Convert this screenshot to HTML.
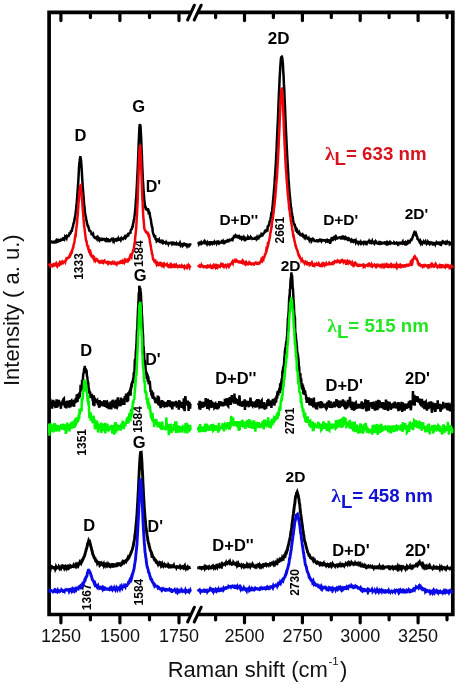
<!DOCTYPE html>
<html><head><meta charset="utf-8"><style>
html,body{margin:0;padding:0;background:#fff;}
svg{display:block;}
text{font-family:"Liberation Sans",Arial,sans-serif;}
</style></head><body>
<svg width="458" height="685" viewBox="0 0 458 685">
<rect width="458" height="685" fill="#fff"/>
<g stroke="#000" stroke-width="3.2" stroke-linecap="round"><line x1="60.9" y1="614.5" x2="60.9" y2="622.8"/><line x1="60.9" y1="12.3" x2="60.9" y2="20.6"/><line x1="119.9" y1="614.5" x2="119.9" y2="622.8"/><line x1="119.9" y1="12.3" x2="119.9" y2="20.6"/><line x1="179.0" y1="614.5" x2="179.0" y2="622.8"/><line x1="179.0" y1="12.3" x2="179.0" y2="20.6"/><line x1="90.4" y1="614.5" x2="90.4" y2="619.8"/><line x1="90.4" y1="12.3" x2="90.4" y2="17.6"/><line x1="149.5" y1="614.5" x2="149.5" y2="619.8"/><line x1="149.5" y1="12.3" x2="149.5" y2="17.6"/><line x1="244.5" y1="614.5" x2="244.5" y2="622.8"/><line x1="244.5" y1="12.3" x2="244.5" y2="20.6"/><line x1="302.4" y1="614.5" x2="302.4" y2="622.8"/><line x1="302.4" y1="12.3" x2="302.4" y2="20.6"/><line x1="360.2" y1="614.5" x2="360.2" y2="622.8"/><line x1="360.2" y1="12.3" x2="360.2" y2="20.6"/><line x1="418.1" y1="614.5" x2="418.1" y2="622.8"/><line x1="418.1" y1="12.3" x2="418.1" y2="20.6"/><line x1="215.6" y1="614.5" x2="215.6" y2="619.8"/><line x1="215.6" y1="12.3" x2="215.6" y2="17.6"/><line x1="273.4" y1="614.5" x2="273.4" y2="619.8"/><line x1="273.4" y1="12.3" x2="273.4" y2="17.6"/><line x1="331.3" y1="614.5" x2="331.3" y2="619.8"/><line x1="331.3" y1="12.3" x2="331.3" y2="17.6"/><line x1="389.1" y1="614.5" x2="389.1" y2="619.8"/><line x1="389.1" y1="12.3" x2="389.1" y2="17.6"/><line x1="447.0" y1="614.5" x2="447.0" y2="619.8"/><line x1="447.0" y1="12.3" x2="447.0" y2="17.6"/></g>
<g fill="none" stroke="#000" stroke-width="3.7" stroke-linejoin="miter">
<path d="M190.2,614.5 L49.1,614.5 L49.1,12.3 L190.2,12.3"/>
<path d="M197.0,12.3 L452.8,12.3 L452.8,614.5 L197.0,614.5"/>
</g>
<g stroke="#000" stroke-width="3" stroke-linecap="round">
<line x1="187.6" y1="622.0" x2="194.4" y2="607.2"/>
<line x1="194.2" y1="622.0" x2="201.2" y2="607.2"/>
<line x1="187.6" y1="20.0" x2="194.4" y2="5.2"/>
<line x1="194.2" y1="20.0" x2="201.2" y2="5.2"/>
</g>
<g font-size="18" fill="#111"><text x="60.9" y="642.3" text-anchor="middle">1250</text><text x="119.9" y="642.3" text-anchor="middle">1500</text><text x="179.0" y="642.3" text-anchor="middle">1750</text><text x="244.5" y="642.3" text-anchor="middle">2500</text><text x="302.4" y="642.3" text-anchor="middle">2750</text><text x="360.2" y="642.3" text-anchor="middle">3000</text><text x="418.1" y="642.3" text-anchor="middle">3250</text></g>
<text x="167.7" y="676.8" font-size="22" fill="#111">Raman shift (cm<tspan font-size="11.5" dy="-11.8" dx="0.6">-1</tspan><tspan dy="11.8" dx="1.2">)</tspan></text>
<text transform="translate(19,386) rotate(-90)" font-size="22" fill="#111">Intensity ( a. u.)</text>

<g font-weight="bold" fill="#000" text-anchor="middle">
<g font-size="16.5">
<text x="80.4" y="140.8">D</text><text x="138.6" y="111.6">G</text><text x="278.6" y="43.7" font-size="17">2D</text>
<text x="86.1" y="355.8">D</text><text x="140.2" y="281.4">G</text><text x="290.6" y="271.4" font-size="15.5">2D</text>
<text x="89.2" y="530.8">D</text><text x="139.1" y="447.5">G</text><text x="295.5" y="482.2" font-size="15.5">2D</text>
</g>
<g font-size="15.5">
<text x="153.5" y="192.1" font-size="16">D'</text><text x="238.8" y="224.7">D+D''</text><text x="340.7" y="225.2">D+D'</text><text x="416.4" y="219.4">2D'</text>
</g>
<g font-size="16.5">
<text x="153.0" y="365.3" font-size="16">D'</text><text x="235.8" y="384.4">D+D''</text><text x="344.2" y="391.4">D+D'</text><text x="417.5" y="384.4">2D'</text>
<text x="155.3" y="532.3" font-size="16">D'</text><text x="233" y="551.0">D+D''</text><text x="350.9" y="555.7">D+D'</text><text x="417.7" y="555.7">2D'</text>
</g>
</g>

<g font-weight="bold" font-size="18.7">
<text x="325.0" y="159.6" fill="#d7141e"><tspan font-family="Liberation Serif,serif" font-size="19.5">λ</tspan><tspan dy="5.5">L</tspan><tspan dy="-5.5">= 633 nm</tspan></text>
<text x="327.3" y="332.1" fill="#22e622"><tspan font-family="Liberation Serif,serif" font-size="19.5">λ</tspan><tspan dy="5.5">L</tspan><tspan dy="-5.5">= 515 nm</tspan></text>
<text x="331.3" y="502.1" fill="#1212d2"><tspan font-family="Liberation Serif,serif" font-size="19.5">λ</tspan><tspan dy="5.5">L</tspan><tspan dy="-5.5">= 458 nm</tspan></text>
</g>

<g font-size="12" font-weight="bold" fill="#000">
<text transform="translate(83.2,279.8) rotate(-90)">1333</text>
<text transform="translate(142.9,267) rotate(-90)">1584</text>
<text transform="translate(284.0,243.5) rotate(-90)">2661</text>
<text transform="translate(86.3,455.7) rotate(-90)">1351</text>
<text transform="translate(142.0,432.8) rotate(-90)">1584</text>
<text transform="translate(293.6,434.3) rotate(-90)">2701</text>
<text transform="translate(90.8,610.2) rotate(-90)">1367</text>
<text transform="translate(143.1,605.4) rotate(-90)">1584</text>
<text transform="translate(299.4,595.8) rotate(-90)">2730</text>
</g>
<g fill="none" stroke-linejoin="miter" stroke-miterlimit="3">
<polyline points="49.1,243.4 49.5,243.0 49.8,243.0 50.2,242.1 50.5,242.5 50.9,242.2 51.2,241.6 51.6,241.5 51.9,241.7 52.3,242.4 52.6,242.6 53.0,242.6 53.3,242.2 53.7,241.9 54.0,242.6 54.4,242.6 54.7,241.4 55.1,243.1 55.4,241.7 55.8,241.1 56.1,242.2 56.5,242.2 56.8,241.9 57.2,240.7 57.5,241.2 57.9,242.5 58.2,241.3 58.6,240.0 58.9,239.9 59.3,240.1 59.6,240.7 60.0,241.9 60.3,240.2 60.7,240.3 61.0,240.0 61.4,238.7 61.7,239.7 62.1,239.4 62.4,239.0 62.8,239.6 63.1,239.7 63.5,239.6 63.8,238.2 64.2,238.2 64.5,238.8 64.9,237.3 65.2,237.9 65.6,238.8 65.9,237.0 66.3,237.4 66.6,238.0 67.0,236.3 67.3,236.6 67.7,236.3 68.0,235.2 68.4,237.0 68.7,235.9 69.1,234.7 69.4,233.7 69.8,233.9 70.1,233.6 70.5,233.1 70.8,231.6 71.2,230.3 71.5,231.2 71.9,230.9 72.2,228.5 72.6,227.6 72.9,226.9 73.3,224.5 73.6,223.0 74.0,222.6 74.3,220.8 74.7,218.2 75.0,217.0 75.4,215.4 75.7,211.8 76.1,209.5 76.4,205.3 76.8,202.3 77.1,197.9 77.5,192.7 77.8,188.1 78.2,183.0 78.5,177.6 78.9,169.6 79.2,164.7 79.6,162.3 79.9,158.8 80.3,156.2 80.6,157.8 81.0,159.9 81.3,163.5 81.7,169.2 82.0,175.1 82.4,181.1 82.7,186.4 83.1,191.2 83.4,194.8 83.8,199.6 84.1,204.4 84.5,206.9 84.8,210.5 85.2,214.4 85.5,215.7 85.9,216.9 86.2,220.0 86.6,220.5 86.9,223.0 87.3,224.1 87.6,226.3 88.0,224.8 88.3,227.1 88.7,227.5 89.0,229.5 89.4,231.1 89.7,229.7 90.1,231.8 90.4,230.6 90.8,232.6 91.1,231.6 91.5,234.0 91.8,235.2 92.2,233.7 92.5,234.6 92.9,234.9 93.2,234.4 93.6,236.3 93.9,236.9 94.3,237.0 94.6,237.7 95.0,238.0 95.3,237.8 95.7,237.7 96.0,237.5 96.4,238.3 96.7,237.6 97.1,237.1 97.4,238.0 97.8,237.6 98.1,238.8 98.5,238.0 98.8,238.0 99.2,239.0 99.5,239.8 99.9,238.8 100.2,238.8 100.6,237.7 100.9,239.3 101.3,237.7 101.6,241.0 102.0,239.4 102.3,239.6 102.7,239.6 103.0,239.7 103.4,239.4 103.7,238.1 104.1,239.6 104.4,238.6 104.8,239.6 105.1,239.5 105.5,241.5 105.8,239.6 106.2,239.2 106.5,240.6 106.9,240.2 107.2,240.4 107.6,238.1 107.9,240.5 108.3,240.3 108.6,241.9 109.0,241.0 109.3,239.6 109.7,240.8 110.0,241.9 110.4,240.0 110.7,239.7 111.1,239.6 111.4,239.5 111.8,240.3 112.1,237.6 112.5,240.3 112.8,239.5 113.2,240.9 113.5,240.4 113.9,241.1 114.2,239.7 114.6,240.2 114.9,240.6 115.3,241.4 115.6,239.4 116.0,239.2 116.3,239.1 116.7,239.8 117.0,239.2 117.4,239.0 117.7,239.3 118.1,238.5 118.4,239.7 118.8,239.4 119.1,240.7 119.5,237.8 119.8,239.9 120.2,239.0 120.5,238.7 120.9,239.8 121.2,239.1 121.6,238.4 121.9,239.0 122.3,239.0 122.6,238.9 123.0,239.1 123.3,238.6 123.7,238.0 124.0,237.8 124.4,237.1 124.7,237.8 125.1,238.1 125.4,236.8 125.8,237.0 126.1,236.2 126.5,236.6 126.8,236.1 127.2,235.9 127.5,235.3 127.9,236.3 128.2,235.3 128.6,234.7 128.9,233.0 129.3,234.0 129.6,233.0 130.0,232.9 130.3,233.8 130.7,230.5 131.0,230.1 131.4,228.8 131.7,229.9 132.1,227.6 132.4,226.5 132.8,226.5 133.1,223.4 133.5,222.5 133.8,219.7 134.2,219.3 134.5,216.1 134.9,213.2 135.2,210.5 135.6,205.5 135.9,200.2 136.3,196.3 136.6,190.2 137.0,183.1 137.3,176.6 137.7,169.3 138.0,161.9 138.4,151.1 138.7,142.8 139.1,134.9 139.4,127.7 139.8,124.1 140.1,125.0 140.5,126.1 140.8,131.8 141.2,138.2 141.5,147.4 141.9,155.5 142.2,165.4 142.6,173.2 142.9,180.6 143.3,186.6 143.6,192.0 144.0,195.4 144.3,200.8 144.7,202.9 145.0,206.1 145.4,207.9 145.7,208.4 146.1,209.9 146.4,208.9 146.8,209.8 147.1,209.8 147.5,209.1 147.8,208.3 148.2,210.3 148.5,212.0 148.9,211.5 149.2,212.3 149.6,212.8 149.9,215.3 150.3,217.8 150.6,218.4 151.0,220.4 151.3,223.5 151.7,225.3 152.0,227.2 152.4,227.4 152.7,231.6 153.1,233.0 153.4,234.2 153.8,234.7 154.1,236.5 154.5,236.7 154.8,237.1 155.2,236.8 155.5,239.0 155.9,239.5 156.2,239.8 156.6,241.3 156.9,241.0 157.3,240.1 157.6,240.3 158.0,238.6 158.3,239.8 158.7,240.3 159.0,239.8 159.4,241.6 159.7,241.7 160.1,241.9 160.4,241.6 160.8,239.8 161.1,241.9 161.5,242.2 161.8,241.8 162.2,241.2 162.5,241.6 162.9,241.4 163.2,243.1 163.6,242.9 163.9,242.5 164.3,242.3 164.6,241.3 165.0,243.5 165.3,242.0 165.7,242.8 166.0,242.2 166.4,243.2 166.7,243.9 167.1,241.9 167.4,242.6 167.8,244.4 168.1,242.4 168.5,243.8 168.8,243.1 169.2,243.1 169.5,244.2 169.9,242.3 170.2,243.6 170.6,242.0 170.9,242.9 171.3,242.9 171.6,243.2 172.0,241.8 172.3,244.3 172.7,244.1 173.0,244.0 173.4,242.6 173.7,242.7 174.1,243.5 174.4,243.4 174.8,245.0 175.1,242.5 175.5,243.9 175.8,243.7 176.2,244.0 176.5,243.3 176.9,244.0 177.2,243.8 177.6,243.8 177.9,244.3 178.3,244.5 178.6,243.7 179.0,243.7 179.3,243.5 179.7,242.9 180.0,245.1 180.4,245.6 180.7,244.5 181.1,243.2 181.4,244.2 181.8,245.7 182.1,243.0 182.5,243.9 182.8,245.5 183.2,245.0 183.5,244.3 183.9,244.8 184.2,244.5 184.6,244.0 184.9,244.4 185.3,243.3 185.6,244.6 186.0,243.3 186.3,245.0 186.7,245.5 187.0,246.2 187.4,245.3 187.7,244.5 188.1,243.9 188.4,247.4 188.8,244.7 189.1,245.5 189.5,244.1 189.8,245.1 190.2,244.5 190.5,243.3" stroke="#000" stroke-width="2.5"/><polyline points="198.2,242.0 198.5,242.7 198.9,244.0 199.2,243.4 199.6,243.5 199.9,241.3 200.3,244.0 200.6,242.1 201.0,243.1 201.3,242.4 201.7,243.2 202.0,242.8 202.4,242.7 202.7,243.0 203.1,242.6 203.4,242.8 203.8,242.1 204.1,241.6 204.5,243.1 204.8,243.2 205.2,242.7 205.5,244.4 205.9,242.8 206.2,243.4 206.6,243.7 206.9,244.2 207.3,243.1 207.6,242.5 208.0,243.4 208.3,243.7 208.7,243.4 209.0,243.0 209.4,243.8 209.7,243.3 210.1,243.7 210.4,242.9 210.8,241.4 211.1,242.7 211.5,241.2 211.8,243.3 212.2,243.7 212.5,243.0 212.9,242.7 213.2,242.4 213.6,242.4 213.9,242.9 214.3,242.0 214.6,242.7 215.0,242.1 215.3,242.3 215.7,242.4 216.0,242.4 216.4,243.2 216.7,242.1 217.1,242.1 217.4,242.9 217.8,240.5 218.1,242.3 218.5,243.5 218.8,243.7 219.2,243.1 219.5,244.1 219.9,242.0 220.2,243.2 220.6,242.0 220.9,243.4 221.3,242.1 221.6,241.4 222.0,241.8 222.3,243.6 222.7,242.1 223.0,242.4 223.4,241.2 223.7,241.7 224.1,240.5 224.4,241.8 224.8,242.8 225.1,242.6 225.5,240.9 225.8,242.6 226.2,241.6 226.5,240.0 226.9,241.6 227.2,242.3 227.6,240.8 227.9,241.1 228.3,242.3 228.6,240.6 229.0,240.9 229.3,240.4 229.7,241.3 230.0,239.7 230.4,240.8 230.7,239.2 231.1,240.8 231.4,239.4 231.8,239.0 232.1,240.0 232.5,240.1 232.8,238.7 233.2,238.4 233.5,237.9 233.9,237.1 234.2,234.9 234.6,236.3 234.9,235.0 235.3,235.9 235.6,235.3 236.0,235.8 236.3,236.3 236.7,236.2 237.0,235.0 237.4,238.2 237.7,236.9 238.1,236.8 238.4,238.4 238.8,237.1 239.1,237.5 239.5,236.7 239.8,237.2 240.2,237.8 240.5,237.6 240.9,239.6 241.2,236.2 241.6,237.6 241.9,239.0 242.3,238.6 242.6,238.1 243.0,238.4 243.3,237.8 243.7,238.5 244.0,237.6 244.4,238.4 244.7,238.2 245.1,239.3 245.4,238.8 245.8,238.4 246.1,239.1 246.5,238.6 246.8,238.7 247.2,239.8 247.5,237.7 247.9,239.7 248.2,237.3 248.6,237.9 248.9,238.3 249.3,238.8 249.6,239.5 250.0,237.5 250.3,237.2 250.7,239.4 251.0,237.4 251.4,237.9 251.7,238.1 252.1,238.3 252.4,238.9 252.8,238.7 253.1,238.4 253.5,237.5 253.8,239.5 254.2,238.3 254.5,239.3 254.9,238.3 255.2,238.5 255.6,238.7 255.9,237.6 256.3,237.4 256.6,238.9 257.0,238.3 257.3,237.2 257.7,237.9 258.0,237.1 258.4,239.4 258.7,237.4 259.1,237.2 259.4,236.5 259.8,234.8 260.1,236.6 260.5,236.3 260.8,234.8 261.2,235.8 261.5,234.2 261.9,234.6 262.2,236.4 262.6,234.5 262.9,233.1 263.3,233.9 263.6,233.5 264.0,233.3 264.3,232.9 264.7,231.7 265.0,231.8 265.4,231.6 265.7,229.5 266.1,232.0 266.4,230.8 266.8,229.9 267.1,229.4 267.5,229.7 267.8,225.5 268.2,226.9 268.5,225.5 268.9,224.9 269.2,224.8 269.6,220.8 269.9,221.4 270.3,219.8 270.6,218.3 271.0,216.2 271.3,213.3 271.7,212.3 272.0,212.5 272.4,207.6 272.7,204.9 273.1,200.3 273.4,197.5 273.8,192.8 274.1,188.7 274.5,184.5 274.8,178.4 275.2,173.8 275.5,168.6 275.9,162.5 276.2,155.4 276.6,149.6 276.9,140.2 277.3,132.2 277.6,125.4 278.0,118.2 278.3,109.0 278.7,99.2 279.0,92.1 279.4,84.2 279.7,76.9 280.1,70.7 280.4,65.4 280.8,60.4 281.1,57.4 281.5,56.9 281.8,56.7 282.2,57.6 282.5,60.1 282.9,64.1 283.2,69.9 283.6,76.3 283.9,84.1 284.3,89.8 284.6,98.7 285.0,106.3 285.3,115.4 285.7,124.1 286.0,131.7 286.4,139.5 286.7,146.1 287.1,153.9 287.4,159.5 287.8,166.3 288.1,170.7 288.5,179.6 288.8,182.3 289.2,188.6 289.5,192.6 289.9,196.4 290.2,199.4 290.6,203.5 290.9,207.0 291.3,208.0 291.6,212.4 292.0,213.4 292.3,216.3 292.7,217.0 293.0,219.7 293.4,221.8 293.7,223.4 294.1,224.3 294.4,224.2 294.8,224.7 295.1,226.6 295.5,227.3 295.8,229.5 296.2,229.1 296.5,228.8 296.9,229.4 297.2,231.8 297.6,231.7 297.9,232.2 298.3,232.0 298.6,233.2 299.0,233.0 299.3,232.4 299.7,233.6 300.0,234.4 300.4,234.3 300.7,235.9 301.1,235.1 301.4,235.2 301.8,234.2 302.1,236.5 302.5,235.1 302.8,235.7 303.2,235.0 303.5,235.4 303.9,236.4 304.2,237.1 304.6,235.9 304.9,235.8 305.3,237.6 305.6,236.2 306.0,237.6 306.3,237.1 306.7,238.8 307.0,237.7 307.4,238.2 307.7,238.4 308.1,239.0 308.4,239.0 308.8,238.3 309.1,239.1 309.5,240.4 309.8,239.9 310.2,238.1 310.5,239.2 310.9,239.4 311.2,238.1 311.6,240.9 311.9,240.4 312.3,239.1 312.6,238.8 313.0,239.5 313.3,240.8 313.7,239.1 314.0,239.8 314.4,240.7 314.7,241.8 315.1,240.1 315.4,240.8 315.8,241.0 316.1,240.9 316.5,240.6 316.8,240.8 317.2,240.3 317.5,239.3 317.9,242.3 318.2,241.3 318.6,240.5 318.9,240.6 319.3,240.2 319.6,240.8 320.0,240.8 320.3,240.4 320.7,239.9 321.0,240.2 321.4,241.0 321.7,240.2 322.1,240.4 322.4,241.4 322.8,240.1 323.1,240.2 323.5,241.5 323.8,240.0 324.2,241.0 324.5,239.1 324.9,241.5 325.2,240.7 325.6,240.8 325.9,241.5 326.3,241.1 326.6,240.5 327.0,240.9 327.3,240.3 327.7,240.9 328.0,240.2 328.4,240.2 328.7,241.2 329.1,242.4 329.4,239.9 329.8,241.0 330.1,243.8 330.5,239.3 330.8,240.2 331.2,239.3 331.5,239.0 331.9,237.1 332.2,239.3 332.6,238.7 332.9,238.2 333.3,237.8 333.6,239.2 334.0,238.8 334.3,238.3 334.7,239.9 335.0,238.2 335.4,237.3 335.7,238.3 336.1,237.6 336.4,238.9 336.8,237.4 337.1,239.3 337.5,238.2 337.8,236.9 338.2,238.3 338.5,237.2 338.9,238.5 339.2,237.5 339.6,237.4 339.9,237.7 340.3,238.1 340.6,237.7 341.0,238.2 341.3,238.1 341.7,238.3 342.0,237.7 342.4,236.5 342.7,235.5 343.1,237.1 343.4,237.3 343.8,238.4 344.1,238.4 344.5,237.3 344.8,237.1 345.2,238.8 345.5,238.6 345.9,237.4 346.2,237.5 346.6,237.9 346.9,239.1 347.3,239.3 347.6,239.0 348.0,241.1 348.3,239.1 348.7,238.7 349.0,239.5 349.4,239.5 349.7,240.7 350.1,239.7 350.4,239.8 350.8,240.7 351.1,240.2 351.5,241.4 351.8,241.2 352.2,240.7 352.5,241.4 352.9,241.7 353.2,241.9 353.6,240.8 353.9,240.3 354.3,240.2 354.6,241.3 355.0,241.6 355.3,241.5 355.7,240.8 356.0,242.4 356.4,241.7 356.7,241.6 357.1,242.1 357.4,240.9 357.8,241.8 358.1,242.3 358.5,240.9 358.8,243.0 359.2,242.4 359.5,242.3 359.9,242.8 360.2,241.4 360.6,243.3 360.9,242.3 361.3,243.2 361.6,242.7 362.0,241.5 362.3,243.2 362.7,243.2 363.0,241.9 363.4,242.9 363.7,242.0 364.1,241.1 364.4,242.4 364.8,242.2 365.1,242.0 365.5,242.2 365.8,245.0 366.2,243.4 366.5,241.0 366.9,242.2 367.2,243.1 367.6,242.3 367.9,242.0 368.3,243.1 368.6,242.1 369.0,241.2 369.3,242.1 369.7,242.0 370.0,242.5 370.4,242.0 370.7,243.2 371.1,241.5 371.4,242.3 371.8,241.6 372.1,241.1 372.5,243.4 372.8,242.7 373.2,243.7 373.5,241.0 373.9,243.1 374.2,243.5 374.6,242.3 374.9,242.6 375.3,241.9 375.6,243.4 376.0,241.8 376.3,241.8 376.7,244.1 377.0,243.0 377.4,243.6 377.7,243.6 378.1,243.7 378.4,243.3 378.8,243.3 379.1,243.5 379.5,240.9 379.8,244.0 380.2,243.2 380.5,243.3 380.9,244.8 381.2,242.4 381.6,242.4 381.9,242.7 382.3,244.0 382.6,242.8 383.0,244.0 383.3,243.0 383.7,242.9 384.0,242.7 384.4,243.1 384.7,242.6 385.1,242.5 385.4,242.9 385.8,243.5 386.1,242.4 386.5,242.3 386.8,242.0 387.2,242.9 387.5,242.1 387.9,243.4 388.2,243.0 388.6,242.7 388.9,241.5 389.3,243.3 389.6,243.0 390.0,243.3 390.3,242.0 390.7,242.3 391.0,243.0 391.4,244.1 391.7,242.3 392.1,243.9 392.4,242.2 392.8,244.1 393.1,242.3 393.5,243.4 393.8,244.1 394.2,242.5 394.5,242.8 394.9,244.7 395.2,241.8 395.6,243.1 395.9,244.3 396.3,242.8 396.6,242.5 397.0,242.7 397.3,243.4 397.7,242.3 398.0,243.3 398.4,243.8 398.7,242.0 399.1,243.3 399.4,243.2 399.8,241.7 400.1,243.7 400.5,241.7 400.8,243.0 401.2,242.7 401.5,242.8 401.9,243.3 402.2,242.5 402.6,241.8 402.9,243.6 403.3,243.5 403.6,242.6 404.0,243.1 404.3,241.2 404.7,242.4 405.0,242.8 405.4,243.4 405.7,242.5 406.1,243.1 406.4,241.8 406.8,243.7 407.1,242.5 407.5,241.9 407.8,243.3 408.2,243.0 408.5,242.9 408.9,241.5 409.2,241.7 409.6,243.2 409.9,241.3 410.3,240.9 410.6,240.3 411.0,239.2 411.3,241.0 411.7,238.1 412.0,239.3 412.4,237.9 412.7,236.9 413.1,235.8 413.4,234.9 413.8,233.9 414.1,232.6 414.5,231.9 414.8,232.1 415.2,232.9 415.5,233.9 415.9,233.3 416.2,234.3 416.6,235.3 416.9,236.5 417.3,237.0 417.6,240.0 418.0,238.5 418.3,239.4 418.7,240.9 419.0,240.1 419.4,241.7 419.7,242.2 420.1,241.6 420.4,240.9 420.8,241.9 421.1,243.5 421.5,242.9 421.8,241.9 422.2,242.1 422.5,243.1 422.9,242.3 423.2,241.5 423.6,243.1 423.9,241.9 424.3,242.5 424.6,243.1 425.0,243.0 425.3,242.8 425.7,241.8 426.0,242.6 426.4,242.6 426.7,243.6 427.1,243.1 427.4,243.6 427.8,243.6 428.1,242.0 428.5,242.6 428.8,244.1 429.2,242.5 429.5,242.4 429.9,243.8 430.2,243.4 430.6,243.3 430.9,242.4 431.3,242.4 431.6,243.0 432.0,243.1 432.3,243.0 432.7,244.4 433.0,244.4 433.4,242.3 433.7,243.1 434.1,243.2 434.4,244.0 434.8,243.8 435.1,244.3 435.5,242.3 435.8,243.4 436.2,242.7 436.5,243.6 436.9,243.4 437.2,241.8 437.6,242.6 437.9,243.7 438.3,243.9 438.6,243.7 439.0,243.3 439.3,244.3 439.7,241.6 440.0,242.6 440.4,242.7 440.7,245.8 441.1,244.7 441.4,241.4 441.8,242.6 442.1,241.9 442.5,241.8 442.8,241.3 443.2,241.6 443.5,242.9 443.9,242.9 444.2,242.5 444.6,242.4 444.9,243.4 445.3,243.5 445.6,242.9 446.0,244.0 446.3,244.8 446.7,241.8 447.0,242.8 447.4,241.8 447.7,242.2 448.1,242.2 448.4,242.4 448.8,242.5 449.1,242.4 449.5,243.9 449.8,243.5 450.2,242.2 450.5,243.5 450.9,244.0 451.2,241.9 451.6,244.8 451.9,242.7 452.3,243.4 452.6,242.8" stroke="#000" stroke-width="2.5"/><polyline points="49.1,265.7 49.5,264.6 49.8,264.7 50.2,266.0 50.5,265.8 50.9,265.9 51.2,265.0 51.6,265.4 51.9,264.7 52.3,266.8 52.6,264.0 53.0,265.2 53.3,264.6 53.7,265.1 54.0,265.3 54.4,264.5 54.7,264.2 55.1,264.9 55.4,264.8 55.8,264.1 56.1,265.2 56.5,265.7 56.8,264.1 57.2,264.8 57.5,265.7 57.9,264.7 58.2,264.4 58.6,264.8 58.9,265.0 59.3,263.6 59.6,262.8 60.0,263.6 60.3,263.9 60.7,262.9 61.0,262.5 61.4,263.1 61.7,262.3 62.1,261.8 62.4,262.6 62.8,262.9 63.1,261.8 63.5,261.7 63.8,260.8 64.2,262.5 64.5,261.8 64.9,261.7 65.2,262.2 65.6,260.4 65.9,259.8 66.3,260.6 66.6,258.5 67.0,258.7 67.3,258.5 67.7,258.3 68.0,257.4 68.4,258.9 68.7,256.8 69.1,256.4 69.4,257.7 69.8,255.5 70.1,255.4 70.5,253.9 70.8,254.2 71.2,253.1 71.5,252.0 71.9,252.1 72.2,250.0 72.6,249.5 72.9,247.9 73.3,247.4 73.6,244.8 74.0,243.7 74.3,242.7 74.7,240.2 75.0,237.7 75.4,235.1 75.7,235.3 76.1,230.6 76.4,227.9 76.8,225.1 77.1,222.1 77.5,216.3 77.8,214.0 78.2,208.0 78.5,202.7 78.9,200.4 79.2,195.0 79.6,192.1 79.9,188.2 80.3,185.8 80.6,185.5 81.0,190.1 81.3,191.9 81.7,194.7 82.0,198.3 82.4,203.9 82.7,209.5 83.1,213.2 83.4,217.7 83.8,221.8 84.1,225.8 84.5,228.1 84.8,231.1 85.2,234.1 85.5,236.6 85.9,239.6 86.2,240.9 86.6,241.3 86.9,244.0 87.3,246.5 87.6,245.6 88.0,247.4 88.3,247.2 88.7,249.9 89.0,251.2 89.4,252.9 89.7,251.4 90.1,251.1 90.4,254.5 90.8,255.0 91.1,254.5 91.5,256.2 91.8,256.2 92.2,256.8 92.5,256.7 92.9,256.4 93.2,257.6 93.6,257.3 93.9,258.6 94.3,258.3 94.6,260.6 95.0,260.3 95.3,258.7 95.7,260.1 96.0,259.4 96.4,259.6 96.7,259.2 97.1,259.7 97.4,259.7 97.8,260.8 98.1,261.4 98.5,261.6 98.8,261.5 99.2,262.2 99.5,261.8 99.9,261.6 100.2,261.4 100.6,262.0 100.9,263.3 101.3,261.9 101.6,261.8 102.0,261.2 102.3,261.6 102.7,262.7 103.0,262.8 103.4,260.7 103.7,261.7 104.1,260.9 104.4,260.7 104.8,263.2 105.1,262.2 105.5,262.2 105.8,262.2 106.2,262.2 106.5,262.5 106.9,262.6 107.2,263.9 107.6,262.9 107.9,263.4 108.3,262.7 108.6,263.2 109.0,262.3 109.3,262.2 109.7,262.6 110.0,262.6 110.4,262.8 110.7,263.3 111.1,263.1 111.4,263.4 111.8,262.7 112.1,263.0 112.5,262.5 112.8,264.1 113.2,262.3 113.5,263.6 113.9,263.6 114.2,263.2 114.6,263.5 114.9,262.8 115.3,263.5 115.6,263.9 116.0,263.7 116.3,262.0 116.7,263.0 117.0,263.9 117.4,263.0 117.7,264.2 118.1,261.5 118.4,264.1 118.8,262.5 119.1,262.4 119.5,264.0 119.8,262.5 120.2,261.9 120.5,262.3 120.9,262.4 121.2,261.8 121.6,262.4 121.9,262.2 122.3,262.5 122.6,261.8 123.0,263.0 123.3,261.5 123.7,262.4 124.0,262.8 124.4,261.5 124.7,260.3 125.1,260.8 125.4,261.8 125.8,260.7 126.1,261.4 126.5,261.0 126.8,260.6 127.2,262.3 127.5,260.1 127.9,260.8 128.2,260.2 128.6,260.6 128.9,260.3 129.3,259.4 129.6,257.6 130.0,256.5 130.3,257.3 130.7,255.9 131.0,256.4 131.4,257.0 131.7,254.6 132.1,253.5 132.4,253.2 132.8,251.6 133.1,250.1 133.5,249.9 133.8,248.8 134.2,246.0 134.5,243.8 134.9,241.5 135.2,237.6 135.6,233.7 135.9,231.6 136.3,226.2 136.6,220.7 137.0,214.7 137.3,207.3 137.7,200.1 138.0,189.9 138.4,178.8 138.7,169.4 139.1,160.7 139.4,151.6 139.8,146.1 140.1,145.9 140.5,149.8 140.8,154.9 141.2,166.2 141.5,174.8 141.9,185.3 142.2,195.5 142.6,201.8 142.9,209.5 143.3,216.5 143.6,219.8 144.0,224.4 144.3,228.4 144.7,229.5 145.0,230.2 145.4,230.9 145.7,231.8 146.1,232.2 146.4,232.0 146.8,232.6 147.1,231.6 147.5,232.7 147.8,233.0 148.2,233.5 148.5,235.8 148.9,236.7 149.2,236.4 149.6,239.1 149.9,241.5 150.3,243.1 150.6,245.8 151.0,247.3 151.3,250.1 151.7,251.3 152.0,254.6 152.4,253.9 152.7,256.9 153.1,259.0 153.4,259.0 153.8,260.1 154.1,260.4 154.5,262.1 154.8,261.4 155.2,259.3 155.5,263.5 155.9,262.5 156.2,263.3 156.6,263.1 156.9,264.9 157.3,264.5 157.6,263.3 158.0,263.9 158.3,262.6 158.7,264.6 159.0,264.0 159.4,261.9 159.7,264.9 160.1,265.1 160.4,264.5 160.8,264.6 161.1,263.9 161.5,264.6 161.8,265.3 162.2,264.6 162.5,262.7 162.9,263.9 163.2,267.2 163.6,265.1 163.9,265.8 164.3,264.6 164.6,265.3 165.0,263.7 165.3,264.5 165.7,264.6 166.0,265.2 166.4,265.4 166.7,265.2 167.1,264.4 167.4,265.1 167.8,265.8 168.1,264.6 168.5,265.5 168.8,265.7 169.2,266.3 169.5,266.2 169.9,266.2 170.2,268.0 170.6,265.0 170.9,265.4 171.3,266.0 171.6,265.0 172.0,265.6 172.3,265.6 172.7,267.9 173.0,266.2 173.4,265.6 173.7,264.7 174.1,264.6 174.4,264.9 174.8,267.0 175.1,267.9 175.5,265.7 175.8,266.1 176.2,265.4 176.5,266.3 176.9,266.1 177.2,267.4 177.6,265.9 177.9,266.6 178.3,266.0 178.6,266.0 179.0,266.4 179.3,266.1 179.7,266.4 180.0,265.8 180.4,266.0 180.7,266.9 181.1,266.9 181.4,265.1 181.8,266.6 182.1,265.7 182.5,266.2 182.8,267.0 183.2,267.1 183.5,266.5 183.9,266.4 184.2,266.1 184.6,267.6 184.9,267.1 185.3,266.7 185.6,265.4 186.0,268.6 186.3,266.3 186.7,267.1 187.0,266.4 187.4,267.1 187.7,266.4 188.1,265.5 188.4,266.5 188.8,266.4 189.1,266.5 189.5,267.4 189.8,266.4 190.2,267.0 190.5,267.5" stroke="#f0050a" stroke-width="2.5"/><polyline points="198.2,266.9 198.5,266.3 198.9,266.1 199.2,267.3 199.6,265.9 199.9,266.3 200.3,265.9 200.6,266.3 201.0,265.6 201.3,267.3 201.7,265.1 202.0,265.5 202.4,267.0 202.7,266.0 203.1,266.1 203.4,267.9 203.8,266.0 204.1,266.9 204.5,266.6 204.8,266.9 205.2,266.8 205.5,266.4 205.9,266.3 206.2,267.7 206.6,266.6 206.9,267.5 207.3,267.4 207.6,266.7 208.0,265.7 208.3,265.9 208.7,266.8 209.0,266.9 209.4,267.0 209.7,266.2 210.1,265.6 210.4,266.3 210.8,265.8 211.1,266.1 211.5,265.1 211.8,267.9 212.2,268.0 212.5,266.4 212.9,265.8 213.2,266.6 213.6,265.9 213.9,267.2 214.3,267.2 214.6,266.8 215.0,265.5 215.3,265.6 215.7,266.8 216.0,266.0 216.4,266.7 216.7,266.1 217.1,267.0 217.4,266.2 217.8,266.7 218.1,266.1 218.5,266.6 218.8,266.7 219.2,266.0 219.5,266.3 219.9,266.0 220.2,266.4 220.6,265.5 220.9,266.6 221.3,265.4 221.6,264.9 222.0,266.2 222.3,264.5 222.7,264.3 223.0,265.5 223.4,266.9 223.7,267.1 224.1,265.9 224.4,264.4 224.8,265.3 225.1,265.1 225.5,265.9 225.8,266.2 226.2,265.3 226.5,266.5 226.9,265.7 227.2,265.1 227.6,265.4 227.9,264.9 228.3,265.6 228.6,264.7 229.0,264.7 229.3,266.2 229.7,265.6 230.0,265.2 230.4,263.9 230.7,263.9 231.1,263.7 231.4,263.5 231.8,262.8 232.1,262.2 232.5,263.0 232.8,263.5 233.2,261.3 233.5,261.6 233.9,261.1 234.2,261.0 234.6,261.5 234.9,261.6 235.3,259.6 235.6,259.5 236.0,259.7 236.3,260.4 236.7,260.6 237.0,261.3 237.4,261.1 237.7,261.7 238.1,262.0 238.4,261.5 238.8,260.5 239.1,263.5 239.5,261.6 239.8,261.6 240.2,263.1 240.5,262.0 240.9,262.2 241.2,262.6 241.6,262.7 241.9,263.5 242.3,261.0 242.6,260.5 243.0,261.2 243.3,262.7 243.7,262.3 244.0,262.3 244.4,263.3 244.7,262.9 245.1,262.4 245.4,263.2 245.8,264.4 246.1,264.1 246.5,262.9 246.8,263.5 247.2,263.6 247.5,262.3 247.9,263.4 248.2,264.1 248.6,263.7 248.9,262.0 249.3,264.7 249.6,262.4 250.0,262.7 250.3,264.1 250.7,264.2 251.0,262.9 251.4,263.8 251.7,264.5 252.1,262.6 252.4,264.0 252.8,263.8 253.1,264.1 253.5,264.3 253.8,264.0 254.2,264.3 254.5,263.6 254.9,263.1 255.2,263.1 255.6,262.9 255.9,262.6 256.3,263.1 256.6,264.1 257.0,262.7 257.3,264.7 257.7,263.8 258.0,262.9 258.4,264.3 258.7,261.6 259.1,263.4 259.4,263.5 259.8,262.7 260.1,262.4 260.5,261.6 260.8,261.3 261.2,260.0 261.5,260.6 261.9,259.9 262.2,260.4 262.6,258.7 262.9,259.2 263.3,259.6 263.6,256.4 264.0,257.6 264.3,256.9 264.7,256.0 265.0,254.0 265.4,254.9 265.7,253.0 266.1,251.3 266.4,249.2 266.8,249.8 267.1,248.3 267.5,247.8 267.8,244.2 268.2,244.5 268.5,243.0 268.9,241.3 269.2,240.5 269.6,238.1 269.9,237.3 270.3,233.2 270.6,232.6 271.0,230.5 271.3,227.3 271.7,227.0 272.0,222.6 272.4,220.1 272.7,219.4 273.1,215.6 273.4,213.5 273.8,209.9 274.1,207.6 274.5,205.2 274.8,200.6 275.2,197.8 275.5,193.8 275.9,189.2 276.2,184.8 276.6,180.7 276.9,177.5 277.3,170.5 277.6,165.6 278.0,158.3 278.3,152.5 278.7,143.9 279.0,136.7 279.4,128.8 279.7,120.0 280.1,113.2 280.4,103.4 280.8,96.9 281.1,92.7 281.5,88.7 281.8,88.6 282.2,91.0 282.5,96.2 282.9,102.1 283.2,109.9 283.6,118.9 283.9,127.6 284.3,136.3 284.6,144.3 285.0,150.7 285.3,158.5 285.7,165.5 286.0,170.0 286.4,174.6 286.7,180.7 287.1,184.3 287.4,188.9 287.8,194.0 288.1,196.7 288.5,200.6 288.8,203.3 289.2,209.2 289.5,209.3 289.9,212.3 290.2,216.3 290.6,217.4 290.9,220.9 291.3,223.0 291.6,224.8 292.0,226.7 292.3,229.7 292.7,231.4 293.0,233.5 293.4,236.3 293.7,236.2 294.1,238.6 294.4,240.8 294.8,241.6 295.1,243.5 295.5,245.7 295.8,245.8 296.2,247.8 296.5,248.6 296.9,249.4 297.2,250.5 297.6,250.7 297.9,253.0 298.3,254.1 298.6,255.4 299.0,256.1 299.3,255.7 299.7,256.6 300.0,258.2 300.4,258.6 300.7,259.0 301.1,257.9 301.4,260.3 301.8,259.7 302.1,261.7 302.5,260.9 302.8,260.0 303.2,262.4 303.5,260.7 303.9,263.4 304.2,262.1 304.6,263.2 304.9,262.6 305.3,262.9 305.6,262.2 306.0,262.8 306.3,263.1 306.7,263.7 307.0,263.1 307.4,264.2 307.7,264.1 308.1,264.2 308.4,263.4 308.8,262.1 309.1,264.0 309.5,262.5 309.8,264.9 310.2,264.6 310.5,263.8 310.9,263.7 311.2,263.7 311.6,263.0 311.9,264.5 312.3,263.5 312.6,264.2 313.0,266.7 313.3,265.3 313.7,264.9 314.0,264.4 314.4,264.1 314.7,264.8 315.1,263.5 315.4,265.4 315.8,264.6 316.1,263.9 316.5,265.5 316.8,263.6 317.2,263.9 317.5,264.8 317.9,264.7 318.2,264.8 318.6,264.7 318.9,263.7 319.3,264.3 319.6,265.8 320.0,265.9 320.3,264.2 320.7,266.8 321.0,266.0 321.4,265.2 321.7,264.7 322.1,263.6 322.4,264.5 322.8,261.9 323.1,264.5 323.5,263.9 323.8,263.8 324.2,264.7 324.5,263.8 324.9,264.0 325.2,264.3 325.6,265.0 325.9,264.8 326.3,263.7 326.6,264.4 327.0,264.0 327.3,263.9 327.7,263.9 328.0,264.1 328.4,263.6 328.7,263.3 329.1,262.8 329.4,263.4 329.8,264.2 330.1,264.2 330.5,263.1 330.8,264.7 331.2,263.8 331.5,262.5 331.9,263.5 332.2,263.6 332.6,262.0 332.9,265.0 333.3,262.8 333.6,263.0 334.0,262.9 334.3,261.7 334.7,261.1 335.0,261.2 335.4,261.5 335.7,261.6 336.1,262.0 336.4,261.7 336.8,262.8 337.1,261.9 337.5,260.9 337.8,261.3 338.2,260.5 338.5,262.3 338.9,261.4 339.2,261.7 339.6,260.0 339.9,261.0 340.3,261.0 340.6,261.7 341.0,261.1 341.3,261.5 341.7,261.2 342.0,259.0 342.4,261.7 342.7,261.0 343.1,261.6 343.4,259.9 343.8,261.8 344.1,261.8 344.5,260.9 344.8,260.0 345.2,261.2 345.5,262.0 345.9,263.7 346.2,264.7 346.6,262.0 346.9,262.0 347.3,261.2 347.6,261.9 348.0,262.6 348.3,261.5 348.7,261.3 349.0,263.3 349.4,262.2 349.7,262.1 350.1,263.8 350.4,262.9 350.8,263.5 351.1,262.6 351.5,262.8 351.8,265.5 352.2,264.1 352.5,262.9 352.9,263.7 353.2,265.0 353.6,264.6 353.9,265.2 354.3,264.2 354.6,265.5 355.0,263.6 355.3,264.0 355.7,263.4 356.0,263.9 356.4,264.0 356.7,264.2 357.1,264.5 357.4,266.5 357.8,264.6 358.1,265.7 358.5,267.0 358.8,263.9 359.2,265.2 359.5,266.5 359.9,265.0 360.2,264.9 360.6,265.2 360.9,264.2 361.3,266.3 361.6,264.7 362.0,266.2 362.3,265.1 362.7,264.9 363.0,265.9 363.4,263.5 363.7,267.0 364.1,266.7 364.4,265.9 364.8,266.3 365.1,264.7 365.5,266.0 365.8,264.5 366.2,266.0 366.5,265.0 366.9,265.0 367.2,265.5 367.6,265.1 367.9,265.4 368.3,264.0 368.6,263.8 369.0,266.0 369.3,265.3 369.7,264.8 370.0,265.2 370.4,264.1 370.7,263.6 371.1,267.3 371.4,266.2 371.8,264.7 372.1,265.3 372.5,266.3 372.8,265.9 373.2,265.6 373.5,264.4 373.9,266.5 374.2,265.6 374.6,264.6 374.9,264.9 375.3,265.9 375.6,266.0 376.0,267.2 376.3,267.2 376.7,266.5 377.0,265.1 377.4,265.2 377.7,264.8 378.1,265.1 378.4,265.2 378.8,265.7 379.1,266.5 379.5,264.9 379.8,266.1 380.2,267.3 380.5,265.5 380.9,265.8 381.2,263.9 381.6,266.1 381.9,265.6 382.3,266.8 382.6,265.3 383.0,265.7 383.3,266.5 383.7,265.7 384.0,266.9 384.4,265.4 384.7,266.3 385.1,265.6 385.4,266.6 385.8,266.5 386.1,266.0 386.5,265.2 386.8,265.8 387.2,267.8 387.5,265.4 387.9,266.0 388.2,265.4 388.6,265.0 388.9,265.3 389.3,266.5 389.6,266.2 390.0,265.5 390.3,265.1 390.7,266.5 391.0,266.4 391.4,266.7 391.7,265.6 392.1,266.5 392.4,264.1 392.8,265.3 393.1,265.0 393.5,265.4 393.8,266.4 394.2,268.0 394.5,264.8 394.9,265.7 395.2,267.4 395.6,263.6 395.9,265.3 396.3,264.6 396.6,266.1 397.0,267.3 397.3,266.5 397.7,265.3 398.0,267.6 398.4,266.3 398.7,265.0 399.1,265.0 399.4,265.8 399.8,268.0 400.1,266.1 400.5,264.9 400.8,265.2 401.2,266.2 401.5,265.6 401.9,265.4 402.2,266.2 402.6,266.4 402.9,266.4 403.3,266.5 403.6,265.9 404.0,265.8 404.3,265.3 404.7,265.3 405.0,265.9 405.4,267.4 405.7,265.3 406.1,266.4 406.4,264.2 406.8,265.9 407.1,263.8 407.5,265.0 407.8,264.1 408.2,265.2 408.5,264.9 408.9,265.5 409.2,265.4 409.6,265.2 409.9,264.0 410.3,265.2 410.6,263.1 411.0,263.7 411.3,262.5 411.7,263.1 412.0,261.6 412.4,262.3 412.7,260.6 413.1,259.4 413.4,259.2 413.8,257.9 414.1,257.0 414.5,256.6 414.8,258.3 415.2,257.0 415.5,257.4 415.9,258.6 416.2,259.4 416.6,258.0 416.9,259.7 417.3,260.4 417.6,260.9 418.0,263.3 418.3,263.4 418.7,265.1 419.0,263.9 419.4,266.0 419.7,265.3 420.1,264.4 420.4,264.7 420.8,266.1 421.1,266.1 421.5,264.4 421.8,265.2 422.2,266.0 422.5,265.5 422.9,265.6 423.2,266.6 423.6,266.2 423.9,267.5 424.3,265.6 424.6,265.8 425.0,265.0 425.3,265.1 425.7,266.3 426.0,264.6 426.4,266.5 426.7,265.2 427.1,266.4 427.4,266.5 427.8,267.0 428.1,266.0 428.5,264.2 428.8,265.9 429.2,265.6 429.5,266.3 429.9,265.6 430.2,265.5 430.6,265.7 430.9,265.0 431.3,266.1 431.6,265.7 432.0,264.8 432.3,265.6 432.7,266.7 433.0,265.1 433.4,265.6 433.7,266.7 434.1,266.7 434.4,266.4 434.8,265.4 435.1,265.8 435.5,265.3 435.8,264.1 436.2,264.7 436.5,266.0 436.9,266.6 437.2,265.0 437.6,266.7 437.9,266.7 438.3,266.2 438.6,265.9 439.0,266.3 439.3,265.9 439.7,268.3 440.0,266.4 440.4,266.1 440.7,265.6 441.1,265.9 441.4,266.3 441.8,264.2 442.1,265.4 442.5,265.7 442.8,265.9 443.2,265.8 443.5,266.8 443.9,267.0 444.2,266.0 444.6,267.4 444.9,265.7 445.3,266.5 445.6,265.6 446.0,266.1 446.3,266.8 446.7,266.7 447.0,266.5 447.4,265.1 447.7,265.1 448.1,266.3 448.4,266.1 448.8,266.8 449.1,265.1 449.5,266.0 449.8,266.7 450.2,267.2 450.5,265.8 450.9,264.7 451.2,266.1 451.6,266.9 451.9,266.9 452.3,266.7 452.6,268.0" stroke="#f0050a" stroke-width="2.5"/><polyline points="49.1,404.1 49.4,401.6 49.6,402.4 49.9,402.4 50.1,398.2 50.4,407.0 50.6,405.7 50.9,407.3 51.1,404.4 51.4,401.8 51.6,404.2 51.9,403.0 52.1,408.8 52.4,403.8 52.6,406.4 52.9,399.9 53.1,402.1 53.4,401.9 53.6,404.3 53.9,402.7 54.1,402.6 54.4,405.0 54.6,405.4 54.9,404.5 55.1,405.7 55.4,405.6 55.6,404.9 55.9,406.0 56.1,402.4 56.4,408.0 56.6,399.2 56.9,405.7 57.1,405.5 57.4,407.5 57.6,404.6 57.9,404.8 58.1,403.5 58.4,405.5 58.6,404.0 58.9,399.8 59.1,403.2 59.4,405.6 59.6,401.9 59.9,404.5 60.1,402.7 60.4,402.7 60.6,405.1 60.9,408.8 61.1,405.0 61.4,402.8 61.6,405.0 61.9,403.1 62.1,401.7 62.4,405.4 62.6,401.1 62.9,400.2 63.1,401.5 63.4,401.2 63.6,398.9 63.9,398.6 64.1,403.5 64.3,404.0 64.6,402.5 64.8,406.1 65.1,407.6 65.3,406.0 65.6,401.7 65.8,402.7 66.1,407.5 66.3,408.3 66.6,404.5 66.8,401.0 67.1,403.8 67.3,402.0 67.6,400.7 67.8,403.0 68.1,402.1 68.3,406.1 68.6,406.3 68.8,402.8 69.1,401.8 69.3,401.6 69.6,401.8 69.8,401.3 70.1,401.2 70.3,407.3 70.6,404.8 70.8,401.8 71.1,401.4 71.3,406.4 71.6,399.9 71.8,403.7 72.1,403.1 72.3,401.8 72.6,400.5 72.8,405.7 73.1,399.7 73.3,401.8 73.6,403.7 73.8,402.4 74.1,406.8 74.3,403.0 74.6,400.8 74.8,402.8 75.1,401.7 75.3,401.1 75.6,400.4 75.8,397.8 76.1,400.1 76.3,400.4 76.6,398.2 76.8,394.3 77.1,399.8 77.3,397.4 77.6,402.0 77.8,394.7 78.1,395.9 78.3,393.8 78.6,396.7 78.8,398.6 79.1,393.4 79.3,393.1 79.6,396.4 79.8,397.1 80.1,391.7 80.3,392.4 80.6,384.8 80.8,386.4 81.1,390.3 81.3,388.2 81.6,390.7 81.8,387.5 82.1,379.9 82.3,382.6 82.6,382.1 82.8,382.0 83.1,375.8 83.3,373.7 83.6,372.9 83.8,372.7 84.1,369.5 84.3,368.0 84.6,369.5 84.8,365.7 85.1,372.1 85.3,370.3 85.6,368.6 85.8,369.2 86.1,373.1 86.3,371.1 86.6,371.1 86.8,374.3 87.1,376.7 87.3,377.1 87.6,379.9 87.8,380.9 88.1,384.6 88.3,382.4 88.6,389.6 88.8,388.0 89.1,390.3 89.3,392.5 89.6,393.8 89.8,392.0 90.1,392.4 90.3,393.2 90.6,398.1 90.8,396.0 91.1,395.0 91.3,394.2 91.6,395.4 91.8,395.5 92.1,395.3 92.3,395.7 92.6,400.7 92.8,398.9 93.1,401.1 93.3,405.5 93.6,404.1 93.8,395.3 94.1,403.3 94.3,406.2 94.6,402.5 94.8,397.6 95.1,401.6 95.3,400.7 95.6,399.2 95.8,402.2 96.1,399.2 96.3,400.5 96.6,402.7 96.8,400.5 97.1,400.2 97.3,403.4 97.6,402.4 97.8,402.5 98.1,404.9 98.3,400.6 98.6,403.9 98.8,405.0 99.1,407.7 99.3,406.8 99.6,400.1 99.8,406.6 100.1,402.9 100.3,404.9 100.6,402.8 100.8,402.7 101.1,406.0 101.3,404.9 101.6,404.0 101.8,404.0 102.1,404.4 102.3,405.2 102.6,402.9 102.8,401.3 103.1,403.2 103.3,406.3 103.6,403.6 103.8,404.5 104.1,403.5 104.3,400.2 104.6,405.2 104.8,404.7 105.1,406.8 105.3,405.4 105.6,406.1 105.8,400.9 106.1,404.0 106.3,406.2 106.6,400.2 106.8,408.0 107.1,402.7 107.3,402.4 107.6,403.4 107.8,405.5 108.1,405.1 108.3,405.7 108.6,402.9 108.8,409.2 109.1,406.1 109.3,404.5 109.6,406.2 109.8,409.2 110.1,405.4 110.3,406.6 110.6,402.9 110.8,401.4 111.1,404.6 111.3,409.4 111.6,405.2 111.8,406.9 112.1,403.0 112.3,400.6 112.6,403.9 112.8,399.7 113.1,401.0 113.3,402.9 113.6,406.6 113.8,404.0 114.1,407.7 114.3,401.7 114.6,403.8 114.8,400.8 115.1,403.0 115.3,408.6 115.6,402.4 115.8,401.6 116.1,399.8 116.3,403.6 116.6,405.9 116.8,403.5 117.1,406.1 117.3,406.8 117.6,406.1 117.8,397.2 118.1,404.9 118.3,405.8 118.6,404.4 118.8,403.2 119.1,400.1 119.3,400.8 119.6,401.1 119.8,402.8 120.1,402.4 120.3,404.2 120.6,406.2 120.8,397.6 121.1,403.5 121.3,399.8 121.6,402.9 121.8,402.2 122.1,402.2 122.3,405.0 122.6,401.7 122.8,400.5 123.1,399.2 123.3,399.9 123.6,398.4 123.8,400.0 124.1,400.5 124.3,405.0 124.6,401.3 124.8,396.1 125.1,399.3 125.3,397.4 125.6,399.6 125.8,398.5 126.1,393.6 126.3,397.4 126.6,394.4 126.8,396.3 127.1,398.0 127.3,402.3 127.6,396.3 127.8,399.9 128.1,401.0 128.3,392.3 128.6,393.1 128.8,392.8 129.1,393.6 129.3,393.3 129.6,391.6 129.8,391.6 130.1,391.2 130.3,388.8 130.6,395.8 130.8,386.9 131.1,389.7 131.3,385.2 131.6,383.5 131.8,387.3 132.1,382.3 132.3,381.1 132.6,383.4 132.8,381.7 133.1,378.7 133.3,382.7 133.6,376.7 133.8,372.3 134.1,372.9 134.3,373.5 134.6,368.3 134.8,361.2 135.1,358.9 135.3,359.4 135.6,357.9 135.8,352.6 136.1,348.8 136.3,346.5 136.6,341.5 136.8,334.7 137.1,329.2 137.3,332.3 137.6,318.9 137.8,315.6 138.1,307.9 138.3,305.6 138.6,299.6 138.8,292.2 139.1,299.5 139.3,285.7 139.6,287.1 139.8,291.1 140.1,293.5 140.3,287.8 140.6,293.5 140.8,292.1 141.1,298.1 141.3,303.7 141.6,306.0 141.8,313.1 142.1,317.0 142.3,322.0 142.6,328.2 142.8,331.8 143.1,336.3 143.3,345.7 143.6,346.9 143.8,350.2 144.1,353.4 144.3,360.0 144.6,360.3 144.8,360.6 145.1,363.3 145.3,362.1 145.6,369.1 145.8,370.4 146.1,372.3 146.3,373.1 146.6,375.1 146.8,379.3 147.1,375.1 147.3,374.6 147.6,375.3 147.8,381.6 148.1,380.4 148.3,376.4 148.6,382.0 148.8,381.8 149.1,384.0 149.3,382.1 149.6,383.1 149.8,380.8 150.1,386.1 150.3,387.1 150.6,392.0 150.8,391.0 151.1,392.6 151.3,392.5 151.6,395.6 151.8,390.3 152.1,396.5 152.3,394.0 152.6,398.3 152.8,395.0 153.1,392.4 153.3,398.9 153.6,396.5 153.8,398.0 154.1,397.5 154.3,397.6 154.6,400.4 154.8,399.7 155.1,400.9 155.3,401.7 155.6,403.0 155.8,397.9 156.1,402.2 156.3,399.0 156.6,399.5 156.8,403.4 157.1,398.6 157.3,403.4 157.6,400.0 157.8,395.6 158.1,403.5 158.3,404.1 158.6,404.3 158.8,396.6 159.1,401.2 159.3,405.4 159.6,400.5 159.8,403.0 160.1,402.7 160.3,402.6 160.6,408.2 160.8,404.7 161.1,405.5 161.3,407.0 161.6,405.8 161.8,405.5 162.1,400.1 162.3,401.7 162.6,402.2 162.8,404.8 163.1,406.6 163.3,403.0 163.6,402.6 163.8,401.4 164.1,403.9 164.3,404.2 164.6,403.2 164.8,406.2 165.1,406.0 165.3,402.6 165.6,407.2 165.8,404.4 166.1,402.3 166.3,403.7 166.6,403.3 166.8,407.0 167.1,404.7 167.3,405.1 167.6,403.0 167.8,403.5 168.1,404.4 168.3,400.0 168.6,403.3 168.8,405.3 169.1,406.1 169.3,404.7 169.6,406.0 169.8,400.3 170.1,403.3 170.3,405.5 170.6,406.3 170.8,407.3 171.1,405.5 171.3,401.7 171.6,402.8 171.8,405.0 172.1,404.5 172.3,409.4 172.6,403.1 172.8,405.5 173.1,401.6 173.3,405.4 173.6,406.1 173.8,404.5 174.1,406.5 174.3,401.8 174.6,404.3 174.8,404.2 175.1,404.2 175.3,405.9 175.6,403.9 175.8,404.7 176.1,400.9 176.3,402.6 176.6,404.2 176.8,406.2 177.1,406.0 177.3,405.9 177.6,402.0 177.8,404.9 178.1,402.8 178.3,405.7 178.6,406.0 178.8,409.7 179.1,403.1 179.3,400.2 179.6,405.7 179.8,401.7 180.1,403.1 180.3,406.8 180.6,403.3 180.8,407.3 181.1,405.9 181.3,402.2 181.6,404.8 181.8,408.0 182.1,401.8 182.3,407.8 182.6,405.6 182.8,406.0 183.1,405.6 183.3,407.3 183.6,409.1 183.8,398.3 184.1,407.5 184.3,407.4 184.6,411.1 184.8,405.0 185.1,402.2 185.3,396.1 185.6,398.6 185.8,401.7 186.1,404.3 186.3,405.2 186.6,401.8 186.8,405.3 187.1,404.8 187.3,404.8 187.6,405.0 187.8,400.5 188.1,405.4 188.3,404.3 188.6,411.0 188.8,402.1 189.1,404.4 189.3,401.9 189.6,404.7 189.8,407.4 190.1,408.6 190.3,404.1 190.6,405.4" stroke="#000" stroke-width="2.5"/><polyline points="198.2,402.7 198.4,403.0 198.7,404.9 198.9,403.3 199.2,406.4 199.4,409.2 199.7,400.8 199.9,403.7 200.2,409.8 200.4,407.4 200.7,406.3 200.9,404.0 201.2,401.6 201.4,404.1 201.7,405.8 201.9,403.7 202.2,402.9 202.4,404.4 202.7,406.4 202.9,407.7 203.2,401.7 203.4,405.5 203.7,404.5 203.9,406.2 204.2,406.1 204.4,405.6 204.7,403.2 204.9,401.8 205.2,403.4 205.4,406.1 205.7,398.0 205.9,402.7 206.2,402.5 206.4,406.0 206.7,405.2 206.9,403.3 207.2,408.9 207.4,406.6 207.7,403.7 207.9,398.9 208.2,403.7 208.4,407.2 208.7,407.6 208.9,402.3 209.2,406.6 209.4,405.5 209.7,400.0 209.9,404.5 210.2,405.5 210.4,406.5 210.7,401.5 210.9,401.4 211.2,406.2 211.4,408.0 211.7,404.9 211.9,401.3 212.2,403.5 212.4,407.5 212.7,403.8 212.9,402.7 213.2,404.6 213.4,404.2 213.7,404.6 213.9,405.8 214.2,406.1 214.4,407.8 214.7,407.4 214.9,408.7 215.2,403.5 215.4,403.3 215.7,404.4 215.9,403.5 216.2,404.4 216.4,406.3 216.7,404.0 216.9,405.3 217.2,405.0 217.4,409.5 217.7,405.7 217.9,403.4 218.2,405.3 218.4,406.5 218.7,408.3 218.9,406.0 219.2,401.0 219.4,405.8 219.7,401.8 219.9,405.4 220.2,401.7 220.4,405.5 220.7,403.2 220.9,402.6 221.2,402.6 221.4,406.3 221.7,404.8 221.9,406.0 222.2,404.2 222.4,404.6 222.7,404.3 222.9,402.2 223.2,406.1 223.4,405.4 223.7,404.9 223.9,404.0 224.2,405.2 224.4,402.0 224.7,405.7 224.9,398.8 225.2,402.8 225.4,400.0 225.7,405.3 225.9,403.4 226.2,402.2 226.4,398.2 226.7,402.0 226.9,398.6 227.2,403.8 227.4,398.3 227.7,403.5 227.9,406.0 228.2,406.3 228.4,401.0 228.7,401.9 228.9,400.7 229.2,401.4 229.4,399.9 229.7,397.1 229.9,401.4 230.2,400.2 230.4,401.7 230.7,404.9 230.9,401.3 231.2,397.0 231.4,402.5 231.7,395.0 231.9,399.2 232.2,399.4 232.4,398.3 232.7,400.5 232.9,400.5 233.2,397.4 233.4,402.4 233.7,401.1 233.9,403.6 234.2,400.6 234.4,393.6 234.7,398.2 234.9,403.4 235.2,402.9 235.4,400.0 235.7,399.8 235.9,403.0 236.2,398.5 236.4,400.8 236.7,400.1 236.9,400.1 237.2,399.4 237.4,403.2 237.7,403.9 237.9,399.1 238.2,402.8 238.4,405.5 238.7,401.8 238.9,400.2 239.2,402.0 239.4,395.3 239.7,398.7 239.9,404.1 240.2,406.0 240.4,403.2 240.7,403.5 240.9,402.7 241.2,402.6 241.4,401.8 241.7,403.4 241.9,406.8 242.2,403.9 242.4,403.4 242.7,403.1 242.9,400.8 243.2,406.2 243.4,404.1 243.7,405.2 243.9,401.2 244.2,402.3 244.4,405.4 244.7,399.3 244.9,409.9 245.2,400.4 245.4,404.5 245.7,407.0 245.9,403.6 246.2,403.7 246.4,401.7 246.7,401.1 246.9,405.9 247.2,404.1 247.4,403.3 247.7,403.6 247.9,404.9 248.2,400.9 248.4,403.4 248.7,407.3 248.9,403.5 249.2,404.7 249.4,404.8 249.7,402.1 249.9,402.6 250.2,403.5 250.4,397.6 250.7,399.8 250.9,405.6 251.2,403.9 251.4,401.1 251.7,405.6 251.9,405.3 252.2,405.7 252.4,401.7 252.7,405.4 252.9,401.6 253.2,405.2 253.4,403.7 253.7,403.5 253.9,405.5 254.2,406.6 254.4,401.9 254.7,405.2 254.9,403.0 255.2,402.6 255.4,407.7 255.7,401.3 255.9,403.9 256.2,404.9 256.4,405.1 256.7,405.4 256.9,403.6 257.2,399.2 257.4,404.4 257.7,406.8 257.9,404.8 258.2,399.1 258.4,403.9 258.7,399.5 258.9,405.9 259.2,406.0 259.4,406.9 259.7,406.4 259.9,404.3 260.2,400.6 260.4,408.3 260.7,406.6 260.9,406.0 261.2,405.1 261.4,400.9 261.7,400.5 261.9,403.1 262.2,402.3 262.4,406.2 262.7,403.4 262.9,408.4 263.2,404.4 263.4,403.5 263.7,402.2 263.9,404.6 264.2,404.5 264.4,406.7 264.7,409.7 264.9,405.8 265.2,408.9 265.4,405.2 265.7,405.0 265.9,407.6 266.2,408.6 266.4,404.7 266.7,405.6 266.9,403.2 267.2,402.0 267.4,400.2 267.7,401.7 267.9,402.1 268.2,404.2 268.4,398.9 268.7,406.0 268.9,404.7 269.2,400.6 269.4,402.3 269.7,405.2 269.9,402.8 270.2,405.0 270.4,401.4 270.7,403.7 270.9,403.2 271.2,400.5 271.4,407.9 271.7,403.5 271.9,402.0 272.2,402.7 272.4,404.0 272.7,402.8 272.9,398.9 273.2,400.6 273.4,403.6 273.7,399.3 273.9,401.0 274.2,402.7 274.4,405.6 274.7,399.6 274.9,403.5 275.2,399.6 275.4,397.5 275.7,398.2 275.9,402.4 276.2,401.3 276.4,397.1 276.7,395.6 276.9,397.7 277.2,397.6 277.4,392.3 277.7,392.1 277.9,394.8 278.2,395.7 278.4,392.5 278.7,390.3 278.9,392.0 279.2,391.1 279.4,387.8 279.7,388.5 279.9,393.2 280.2,383.3 280.4,385.3 280.7,390.4 280.9,388.1 281.2,381.4 281.4,384.9 281.7,378.4 281.9,381.5 282.2,381.3 282.4,372.0 282.7,370.1 282.9,373.2 283.2,366.8 283.4,368.1 283.7,365.8 283.9,365.5 284.2,361.4 284.4,357.3 284.7,355.1 284.9,351.3 285.2,348.9 285.4,347.3 285.7,350.2 285.9,344.3 286.2,342.1 286.4,341.9 286.7,340.8 286.9,336.9 287.2,335.6 287.4,330.7 287.7,324.6 287.9,318.5 288.2,317.5 288.4,315.1 288.7,310.9 288.9,306.0 289.2,298.4 289.4,296.8 289.7,297.1 289.9,288.7 290.2,289.1 290.4,283.2 290.7,278.5 290.9,278.8 291.2,275.7 291.4,272.3 291.7,277.8 291.9,274.9 292.2,277.7 292.4,281.3 292.7,288.6 292.9,287.9 293.2,293.8 293.4,297.2 293.7,303.2 293.9,304.5 294.2,314.9 294.4,314.7 294.7,317.6 294.9,316.6 295.2,330.5 295.4,333.0 295.7,333.9 295.9,335.8 296.2,341.4 296.4,340.6 296.7,345.7 296.9,345.4 297.2,353.6 297.4,351.9 297.7,355.0 297.9,354.0 298.2,357.9 298.4,358.4 298.7,363.2 298.9,367.8 299.2,366.3 299.4,373.5 299.7,375.0 299.9,375.0 300.2,373.2 300.4,374.2 300.7,382.5 300.9,380.7 301.2,378.4 301.4,383.7 301.7,387.9 301.9,385.1 302.2,383.2 302.4,389.0 302.7,390.0 302.9,384.8 303.2,388.9 303.4,394.2 303.7,390.4 303.9,390.2 304.2,394.7 304.4,394.2 304.7,393.3 304.9,390.2 305.2,392.8 305.4,393.9 305.7,395.3 305.9,394.3 306.2,399.2 306.4,396.5 306.7,402.6 306.9,401.1 307.2,402.7 307.4,401.0 307.7,398.3 307.9,397.3 308.2,399.5 308.4,399.9 308.7,400.8 308.9,397.4 309.2,403.1 309.4,403.6 309.7,405.2 309.9,403.2 310.2,401.8 310.4,403.1 310.7,402.4 310.9,398.4 311.2,402.0 311.4,401.8 311.7,403.2 311.9,401.1 312.2,405.9 312.4,402.2 312.7,402.0 312.9,398.7 313.2,407.4 313.4,404.4 313.7,400.8 313.9,397.5 314.2,407.4 314.4,405.2 314.7,407.0 314.9,403.4 315.2,402.3 315.4,405.1 315.7,408.5 315.9,404.2 316.2,409.4 316.4,402.3 316.7,407.0 316.9,407.2 317.2,407.5 317.4,405.0 317.7,404.8 317.9,404.0 318.2,405.3 318.4,405.3 318.7,402.6 318.9,401.8 319.2,404.4 319.4,403.6 319.7,403.0 319.9,405.4 320.2,406.4 320.4,408.2 320.7,406.1 320.9,401.1 321.2,406.6 321.4,408.0 321.7,405.5 321.9,404.4 322.2,404.1 322.4,407.2 322.7,404.0 322.9,406.2 323.2,406.0 323.4,404.7 323.7,407.3 323.9,406.4 324.2,403.5 324.4,407.7 324.7,406.0 324.9,404.0 325.2,404.6 325.4,404.6 325.7,407.9 325.9,408.2 326.2,405.8 326.4,406.6 326.7,409.4 326.9,405.4 327.2,404.3 327.4,401.8 327.7,405.5 327.9,405.7 328.2,407.1 328.4,404.7 328.7,405.9 328.9,400.4 329.2,406.9 329.4,402.1 329.7,405.6 329.9,407.9 330.2,403.1 330.4,404.3 330.7,401.4 330.9,403.2 331.2,404.8 331.4,405.9 331.7,406.5 331.9,405.1 332.2,404.3 332.4,406.7 332.7,406.6 332.9,404.0 333.2,406.9 333.4,405.0 333.7,405.4 333.9,406.4 334.2,401.5 334.4,402.3 334.7,404.5 334.9,407.5 335.2,403.9 335.4,404.8 335.7,404.6 335.9,404.3 336.2,405.6 336.4,399.0 336.7,402.8 336.9,404.7 337.2,403.5 337.4,405.2 337.7,405.9 337.9,406.1 338.2,403.1 338.4,401.3 338.7,400.6 338.9,403.2 339.2,403.1 339.4,407.8 339.7,407.1 339.9,404.7 340.2,401.7 340.4,400.7 340.7,404.2 340.9,406.6 341.2,404.4 341.4,403.9 341.7,406.0 341.9,404.3 342.2,401.7 342.4,405.2 342.7,404.0 342.9,399.4 343.2,402.7 343.4,402.6 343.7,404.9 343.9,401.7 344.2,407.3 344.4,400.7 344.7,403.9 344.9,405.9 345.2,405.5 345.4,403.6 345.7,409.5 345.9,404.9 346.2,404.4 346.4,407.7 346.7,403.8 346.9,402.1 347.2,408.3 347.4,406.5 347.7,403.4 347.9,399.8 348.2,405.8 348.4,404.1 348.7,406.2 348.9,404.3 349.2,403.3 349.4,405.9 349.7,403.0 349.9,396.9 350.2,400.8 350.4,404.8 350.7,404.2 350.9,408.0 351.2,405.4 351.4,406.1 351.7,407.2 351.9,409.8 352.2,401.6 352.4,404.1 352.7,408.1 352.9,403.5 353.2,403.6 353.4,408.4 353.7,402.4 353.9,410.8 354.2,403.4 354.4,407.9 354.7,404.6 354.9,409.9 355.2,405.2 355.4,402.9 355.7,402.6 355.9,405.3 356.2,405.2 356.4,407.5 356.7,406.8 356.9,405.7 357.2,408.8 357.4,405.0 357.7,406.5 357.9,404.8 358.2,403.9 358.4,406.3 358.7,408.2 358.9,404.8 359.2,407.2 359.4,405.9 359.7,405.6 359.9,408.5 360.2,404.2 360.4,408.5 360.7,405.9 360.9,403.7 361.2,404.3 361.4,404.8 361.7,401.3 361.9,405.4 362.2,404.7 362.4,402.8 362.7,409.1 362.9,406.1 363.2,403.2 363.4,404.0 363.7,406.6 363.9,404.0 364.2,403.8 364.4,405.1 364.7,402.5 364.9,408.0 365.2,403.8 365.4,399.2 365.7,405.9 365.9,409.8 366.2,400.0 366.4,411.5 366.7,405.3 366.9,406.0 367.2,401.2 367.4,407.0 367.7,406.1 367.9,405.2 368.2,400.2 368.4,402.9 368.7,404.0 368.9,410.7 369.2,407.1 369.4,403.9 369.7,404.0 369.9,402.9 370.2,406.9 370.4,405.9 370.7,405.1 370.9,403.3 371.2,402.5 371.4,405.3 371.7,402.2 371.9,404.9 372.2,403.9 372.4,408.7 372.7,407.9 372.9,402.3 373.2,406.6 373.4,401.7 373.7,402.6 373.9,408.6 374.2,405.8 374.4,405.1 374.7,406.5 374.9,410.8 375.2,405.0 375.4,406.1 375.7,409.1 375.9,406.6 376.2,406.9 376.4,400.8 376.7,404.8 376.9,407.8 377.2,406.0 377.4,410.3 377.7,404.2 377.9,405.9 378.2,399.9 378.4,405.8 378.7,402.2 378.9,402.1 379.2,408.4 379.4,401.2 379.7,400.7 379.9,405.7 380.2,407.5 380.4,405.9 380.7,405.8 380.9,403.5 381.2,406.0 381.4,405.0 381.7,402.5 381.9,404.1 382.2,406.6 382.4,408.0 382.7,402.0 382.9,407.8 383.2,404.2 383.4,406.4 383.7,409.5 383.9,404.0 384.2,407.8 384.4,404.4 384.7,402.7 384.9,404.6 385.2,410.0 385.4,407.0 385.7,406.1 385.9,399.6 386.2,403.4 386.4,404.5 386.7,402.2 386.9,405.5 387.2,405.5 387.4,407.1 387.7,404.7 387.9,410.8 388.2,409.7 388.4,402.9 388.7,403.1 388.9,404.9 389.2,406.3 389.4,401.7 389.7,403.1 389.9,408.0 390.2,404.7 390.4,403.4 390.7,406.3 390.9,409.8 391.2,406.1 391.4,404.3 391.7,403.8 391.9,406.7 392.2,404.6 392.4,405.5 392.7,403.9 392.9,408.2 393.2,407.1 393.4,404.0 393.7,402.9 393.9,405.1 394.2,403.7 394.4,404.5 394.7,407.0 394.9,401.5 395.2,407.2 395.4,407.6 395.7,405.0 395.9,403.4 396.2,404.5 396.4,407.1 396.7,408.5 396.9,404.2 397.2,404.8 397.4,407.5 397.7,406.7 397.9,402.3 398.2,403.2 398.4,411.1 398.7,406.9 398.9,402.3 399.2,406.6 399.4,410.3 399.7,408.1 399.9,402.8 400.2,407.6 400.4,403.7 400.7,408.2 400.9,403.2 401.2,406.2 401.4,404.8 401.7,405.3 401.9,406.6 402.2,412.0 402.4,403.2 402.7,403.3 402.9,403.9 403.2,403.1 403.4,407.0 403.7,404.1 403.9,409.3 404.2,409.4 404.4,405.3 404.7,410.4 404.9,403.9 405.2,406.0 405.4,405.3 405.7,407.4 405.9,404.8 406.2,403.7 406.4,408.6 406.7,407.5 406.9,404.2 407.2,408.6 407.4,404.1 407.7,407.8 407.9,406.4 408.2,404.0 408.4,403.8 408.7,408.0 408.9,401.2 409.2,406.2 409.4,406.8 409.7,403.3 409.9,404.7 410.2,400.3 410.4,406.3 410.7,409.0 410.9,410.2 411.2,405.9 411.4,404.0 411.7,402.8 411.9,402.3 412.2,400.8 412.4,404.0 412.7,404.9 412.9,391.0 413.2,396.6 413.4,403.3 413.7,401.4 413.9,402.3 414.2,396.6 414.4,396.5 414.7,405.7 414.9,400.1 415.2,401.4 415.4,399.0 415.7,400.8 415.9,398.8 416.2,401.0 416.4,396.4 416.7,399.9 416.9,396.1 417.2,401.9 417.4,397.5 417.7,397.5 417.9,398.5 418.2,400.0 418.4,402.3 418.7,401.2 418.9,402.9 419.2,398.5 419.4,400.1 419.7,399.7 419.9,399.4 420.2,404.6 420.4,403.7 420.7,403.9 420.9,404.8 421.2,405.4 421.4,406.3 421.7,404.7 421.9,398.8 422.2,403.1 422.4,403.3 422.7,403.7 422.9,407.6 423.2,404.1 423.4,405.5 423.7,404.9 423.9,406.7 424.2,400.8 424.4,409.2 424.7,406.4 424.9,407.4 425.2,406.8 425.4,402.4 425.7,402.0 425.9,404.6 426.2,408.5 426.4,403.7 426.7,406.1 426.9,410.7 427.2,404.7 427.4,406.7 427.7,406.2 427.9,404.2 428.2,402.7 428.4,409.1 428.7,405.5 428.9,401.9 429.2,405.5 429.4,406.3 429.7,402.6 429.9,408.0 430.2,406.6 430.4,401.6 430.7,405.9 430.9,403.9 431.2,401.3 431.4,407.6 431.7,409.8 431.9,412.8 432.2,406.4 432.4,406.1 432.7,407.4 432.9,404.5 433.2,402.6 433.4,405.0 433.7,407.4 433.9,410.0 434.2,406.3 434.4,405.6 434.7,403.2 434.9,409.1 435.2,408.8 435.4,412.0 435.7,407.9 435.9,404.1 436.2,403.4 436.4,406.6 436.7,409.1 436.9,405.4 437.2,408.7 437.4,408.3 437.7,400.2 437.9,408.6 438.2,406.4 438.4,406.9 438.7,404.6 438.9,408.6 439.2,407.4 439.4,403.7 439.7,408.3 439.9,408.5 440.2,408.6 440.4,410.5 440.7,411.6 440.9,405.5 441.2,409.6 441.4,408.5 441.7,404.3 441.9,405.7 442.2,409.4 442.4,404.9 442.7,406.6 442.9,408.3 443.2,401.7 443.4,407.7 443.7,407.3 443.9,405.8 444.2,406.0 444.4,406.1 444.7,407.2 444.9,407.2 445.2,405.5 445.4,407.6 445.7,406.9 445.9,404.5 446.2,404.6 446.4,407.0 446.7,407.9 446.9,402.7 447.2,410.2 447.4,405.7 447.7,405.7 447.9,410.1 448.2,409.6 448.4,402.7 448.7,405.0 448.9,407.3 449.2,406.7 449.4,405.7 449.7,409.8 449.9,404.1 450.2,411.5 450.4,406.3 450.7,408.3 450.9,408.6 451.2,405.6 451.4,408.2 451.7,403.4 451.9,403.3 452.2,402.7 452.4,404.9 452.7,408.4" stroke="#000" stroke-width="2.5"/><polyline points="49.1,423.4 49.4,435.7 49.6,425.6 49.9,427.8 50.1,424.7 50.4,427.0 50.6,423.4 50.9,427.9 51.1,429.3 51.4,426.6 51.6,426.9 51.9,428.9 52.1,428.6 52.4,426.2 52.6,426.2 52.9,429.2 53.1,428.9 53.4,432.5 53.6,423.8 53.9,428.6 54.1,424.6 54.4,426.9 54.6,423.1 54.9,424.1 55.1,427.2 55.4,424.3 55.6,430.3 55.9,424.8 56.1,431.7 56.4,427.1 56.6,425.3 56.9,427.4 57.1,428.9 57.4,429.9 57.6,428.8 57.9,425.3 58.1,425.7 58.4,428.5 58.6,431.0 58.9,426.2 59.1,431.5 59.4,429.2 59.6,429.7 59.9,426.0 60.1,427.2 60.4,426.6 60.6,427.1 60.9,429.5 61.1,426.4 61.4,424.2 61.6,427.8 61.9,426.1 62.1,428.0 62.4,425.1 62.6,426.0 62.9,425.4 63.1,426.7 63.4,423.5 63.6,428.5 63.9,428.4 64.1,429.0 64.3,425.9 64.6,429.0 64.8,429.0 65.1,425.6 65.3,424.4 65.6,425.9 65.8,434.0 66.1,429.6 66.3,429.9 66.6,430.2 66.8,428.1 67.1,422.5 67.3,427.8 67.6,428.8 67.8,425.2 68.1,426.7 68.3,426.5 68.6,428.4 68.8,426.7 69.1,425.5 69.3,431.3 69.6,430.5 69.8,423.7 70.1,424.2 70.3,427.5 70.6,428.7 70.8,426.5 71.1,428.9 71.3,426.7 71.6,421.6 71.8,425.3 72.1,422.6 72.3,425.9 72.6,424.3 72.8,421.6 73.1,428.3 73.3,425.7 73.6,425.0 73.8,423.7 74.1,420.4 74.3,422.4 74.6,427.6 74.8,424.3 75.1,425.6 75.3,425.5 75.6,417.8 75.8,425.3 76.1,421.7 76.3,423.8 76.6,419.5 76.8,420.4 77.1,420.6 77.3,420.7 77.6,417.2 77.8,421.9 78.1,420.9 78.3,421.3 78.6,414.6 78.8,418.0 79.1,419.2 79.3,416.9 79.6,408.8 79.8,414.5 80.1,411.1 80.3,411.1 80.6,411.2 80.8,411.7 81.1,409.5 81.3,408.1 81.6,411.2 81.8,397.6 82.1,400.0 82.3,400.1 82.6,399.0 82.8,398.4 83.1,391.9 83.3,392.6 83.6,388.8 83.8,391.5 84.1,385.2 84.3,379.7 84.6,384.2 84.8,380.7 85.1,382.4 85.3,380.0 85.6,380.8 85.8,384.5 86.1,387.6 86.3,387.3 86.6,390.0 86.8,393.7 87.1,393.2 87.3,395.4 87.6,400.8 87.8,400.8 88.1,395.1 88.3,402.2 88.6,405.6 88.8,401.1 89.1,409.9 89.3,416.3 89.6,416.1 89.8,416.2 90.1,412.8 90.3,412.0 90.6,420.7 90.8,413.3 91.1,419.9 91.3,416.9 91.6,417.0 91.8,417.7 92.1,419.3 92.3,419.4 92.6,423.2 92.8,420.1 93.1,418.8 93.3,419.3 93.6,415.5 93.8,419.6 94.1,420.8 94.3,418.8 94.6,422.7 94.8,426.8 95.1,429.4 95.3,420.8 95.6,422.8 95.8,422.3 96.1,425.5 96.3,424.0 96.6,420.3 96.8,424.4 97.1,428.2 97.3,426.6 97.6,422.2 97.8,428.5 98.1,432.4 98.3,431.8 98.6,429.5 98.8,424.3 99.1,426.2 99.3,428.4 99.6,429.8 99.8,427.0 100.1,427.2 100.3,428.3 100.6,427.6 100.8,428.9 101.1,422.6 101.3,433.1 101.6,426.9 101.8,429.8 102.1,425.6 102.3,428.0 102.6,426.5 102.8,426.1 103.1,427.0 103.3,425.1 103.6,431.1 103.8,425.3 104.1,428.2 104.3,426.8 104.6,423.8 104.8,425.0 105.1,422.8 105.3,433.4 105.6,430.2 105.8,425.5 106.1,430.7 106.3,428.4 106.6,423.7 106.8,425.7 107.1,430.4 107.3,426.8 107.6,426.4 107.8,427.8 108.1,428.2 108.3,427.6 108.6,431.7 108.8,427.7 109.1,430.4 109.3,427.0 109.6,426.9 109.8,430.2 110.1,426.5 110.3,427.1 110.6,428.1 110.8,426.1 111.1,428.7 111.3,428.7 111.6,427.7 111.8,428.1 112.1,425.0 112.3,433.8 112.6,428.6 112.8,432.9 113.1,429.1 113.3,427.2 113.6,427.8 113.8,425.4 114.1,427.0 114.3,434.6 114.6,430.5 114.8,423.8 115.1,423.8 115.3,427.4 115.6,431.5 115.8,422.1 116.1,432.8 116.3,426.7 116.6,427.6 116.8,426.8 117.1,430.3 117.3,428.3 117.6,424.6 117.8,428.4 118.1,430.6 118.3,427.1 118.6,426.8 118.8,427.3 119.1,428.9 119.3,425.4 119.6,427.0 119.8,429.6 120.1,426.0 120.3,426.5 120.6,425.9 120.8,430.5 121.1,428.0 121.3,424.8 121.6,423.5 121.8,424.8 122.1,425.1 122.3,423.5 122.6,422.7 122.8,420.6 123.1,423.7 123.3,426.1 123.6,423.3 123.8,429.1 124.1,423.9 124.3,425.0 124.6,423.7 124.8,422.2 125.1,423.0 125.3,426.5 125.6,423.5 125.8,424.4 126.1,422.2 126.3,420.9 126.6,423.9 126.8,419.4 127.1,417.6 127.3,421.2 127.6,418.3 127.8,423.5 128.1,420.7 128.3,416.5 128.6,422.9 128.8,419.3 129.1,419.7 129.3,414.1 129.6,413.6 129.8,417.4 130.1,414.9 130.3,421.1 130.6,411.7 130.8,412.2 131.1,409.0 131.3,417.5 131.6,409.8 131.8,410.6 132.1,415.2 132.3,409.4 132.6,406.7 132.8,403.3 133.1,403.5 133.3,403.9 133.6,400.0 133.8,399.7 134.1,399.4 134.3,398.4 134.6,393.5 134.8,391.3 135.1,384.8 135.3,387.9 135.6,380.1 135.8,380.2 136.1,374.9 136.3,376.5 136.6,372.6 136.8,367.0 137.1,359.4 137.3,356.2 137.6,349.3 137.8,344.6 138.1,336.7 138.3,332.4 138.6,327.7 138.8,318.7 139.1,313.9 139.3,304.8 139.6,305.8 139.8,303.1 140.1,303.9 140.3,301.9 140.6,306.0 140.8,311.3 141.1,321.8 141.3,328.7 141.6,330.7 141.8,335.9 142.1,340.2 142.3,354.2 142.6,355.5 142.8,364.2 143.1,366.9 143.3,369.2 143.6,370.0 143.8,377.2 144.1,380.7 144.3,382.5 144.6,381.1 144.8,380.5 145.1,392.4 145.3,391.1 145.6,393.2 145.8,390.7 146.1,393.9 146.3,392.4 146.6,400.0 146.8,398.5 147.1,400.7 147.3,403.3 147.6,401.9 147.8,405.3 148.1,397.8 148.3,403.1 148.6,407.5 148.8,407.4 149.1,402.5 149.3,408.9 149.6,406.8 149.8,408.0 150.1,407.7 150.3,409.7 150.6,412.7 150.8,414.5 151.1,418.3 151.3,414.9 151.6,415.2 151.8,417.2 152.1,417.4 152.3,420.7 152.6,412.9 152.8,420.1 153.1,422.0 153.3,421.4 153.6,420.8 153.8,419.0 154.1,427.3 154.3,420.3 154.6,423.5 154.8,422.7 155.1,420.0 155.3,420.9 155.6,424.7 155.8,423.5 156.1,418.8 156.3,420.3 156.6,421.7 156.8,424.0 157.1,421.8 157.3,423.4 157.6,425.9 157.8,427.2 158.1,423.5 158.3,424.0 158.6,422.0 158.8,426.4 159.1,421.8 159.3,426.3 159.6,422.4 159.8,424.3 160.1,427.2 160.3,428.2 160.6,426.2 160.8,426.7 161.1,423.7 161.3,427.9 161.6,430.0 161.8,426.4 162.1,421.6 162.3,422.4 162.6,428.1 162.8,427.3 163.1,425.9 163.3,428.4 163.6,427.4 163.8,427.6 164.1,429.6 164.3,428.5 164.6,428.3 164.8,426.5 165.1,430.1 165.3,426.9 165.6,429.7 165.8,429.3 166.1,430.2 166.3,417.4 166.6,424.3 166.8,424.1 167.1,425.5 167.3,428.1 167.6,427.4 167.8,426.9 168.1,426.5 168.3,426.2 168.6,423.9 168.8,435.2 169.1,429.2 169.3,426.1 169.6,428.7 169.8,428.3 170.1,424.2 170.3,427.4 170.6,423.5 170.8,428.1 171.1,427.4 171.3,430.7 171.6,433.0 171.8,429.1 172.1,427.9 172.3,429.0 172.6,431.5 172.8,426.5 173.1,428.0 173.3,428.2 173.6,430.2 173.8,424.1 174.1,424.6 174.3,427.5 174.6,428.6 174.8,427.7 175.1,424.1 175.3,421.3 175.6,428.3 175.8,429.4 176.1,432.9 176.3,421.4 176.6,431.2 176.8,426.2 177.1,427.2 177.3,425.1 177.6,430.6 177.8,432.5 178.1,428.1 178.3,427.4 178.6,425.6 178.8,432.7 179.1,429.6 179.3,429.2 179.6,431.9 179.8,428.9 180.1,426.5 180.3,428.6 180.6,432.1 180.8,427.7 181.1,426.4 181.3,427.2 181.6,426.6 181.8,432.7 182.1,427.4 182.3,427.1 182.6,429.5 182.8,428.7 183.1,430.5 183.3,425.5 183.6,429.4 183.8,431.0 184.1,428.2 184.3,428.3 184.6,427.0 184.8,430.7 185.1,430.3 185.3,427.7 185.6,423.1 185.8,427.5 186.1,432.1 186.3,428.2 186.6,430.6 186.8,433.3 187.1,430.4 187.3,430.1 187.6,427.6 187.8,425.4 188.1,425.8 188.3,426.6 188.6,429.8 188.8,428.3 189.1,428.8 189.3,425.2 189.6,430.3 189.8,430.1 190.1,424.9 190.3,427.2 190.6,429.8" stroke="#00f500" stroke-width="2.5"/><polyline points="198.2,427.7 198.4,430.1 198.7,427.2 198.9,428.5 199.2,432.5 199.4,426.1 199.7,428.8 199.9,427.0 200.2,424.0 200.4,427.9 200.7,431.3 200.9,430.3 201.2,426.0 201.4,432.2 201.7,427.9 201.9,427.6 202.2,431.4 202.4,428.1 202.7,427.1 202.9,430.4 203.2,429.7 203.4,427.1 203.7,431.7 203.9,430.7 204.2,426.1 204.4,428.2 204.7,432.0 204.9,428.4 205.2,423.6 205.4,432.2 205.7,426.4 205.9,426.5 206.2,428.8 206.4,426.9 206.7,430.0 206.9,424.5 207.2,424.0 207.4,430.5 207.7,428.9 207.9,428.0 208.2,429.9 208.4,427.4 208.7,430.9 208.9,426.8 209.2,429.0 209.4,428.4 209.7,427.1 209.9,425.9 210.2,430.7 210.4,426.2 210.7,426.0 210.9,428.5 211.2,424.3 211.4,430.1 211.7,429.5 211.9,427.2 212.2,429.8 212.4,424.6 212.7,427.6 212.9,423.8 213.2,430.7 213.4,430.5 213.7,424.7 213.9,430.7 214.2,425.4 214.4,430.1 214.7,427.4 214.9,425.1 215.2,428.1 215.4,430.9 215.7,429.2 215.9,425.1 216.2,427.5 216.4,426.2 216.7,427.7 216.9,427.2 217.2,428.4 217.4,430.4 217.7,426.5 217.9,427.4 218.2,432.8 218.4,427.8 218.7,425.4 218.9,422.9 219.2,431.1 219.4,427.5 219.7,426.3 219.9,425.8 220.2,429.4 220.4,426.4 220.7,428.7 220.9,427.7 221.2,428.9 221.4,426.8 221.7,428.5 221.9,426.7 222.2,427.7 222.4,425.1 222.7,423.2 222.9,427.6 223.2,429.1 223.4,427.8 223.7,428.6 223.9,431.3 224.2,427.0 224.4,428.3 224.7,424.7 224.9,427.2 225.2,424.5 225.4,424.8 225.7,427.9 225.9,427.3 226.2,427.7 226.4,427.4 226.7,424.1 226.9,427.3 227.2,426.9 227.4,427.7 227.7,422.1 227.9,426.3 228.2,425.7 228.4,427.3 228.7,424.4 228.9,426.8 229.2,426.3 229.4,429.6 229.7,428.4 229.9,423.7 230.2,422.1 230.4,428.0 230.7,423.3 230.9,423.1 231.2,415.8 231.4,425.8 231.7,424.8 231.9,425.7 232.2,420.9 232.4,420.3 232.7,423.5 232.9,419.0 233.2,417.5 233.4,423.9 233.7,421.3 233.9,423.2 234.2,424.3 234.4,424.0 234.7,423.4 234.9,426.1 235.2,423.2 235.4,421.1 235.7,425.5 235.9,424.6 236.2,425.6 236.4,422.5 236.7,423.8 236.9,421.3 237.2,424.5 237.4,427.5 237.7,422.5 237.9,424.7 238.2,421.2 238.4,422.4 238.7,430.8 238.9,429.2 239.2,424.3 239.4,426.3 239.7,430.1 239.9,425.9 240.2,421.4 240.4,423.1 240.7,426.9 240.9,424.0 241.2,422.3 241.4,425.3 241.7,420.5 241.9,426.7 242.2,419.7 242.4,421.2 242.7,423.7 242.9,424.5 243.2,425.0 243.4,427.4 243.7,422.6 243.9,421.9 244.2,423.2 244.4,424.4 244.7,424.9 244.9,427.5 245.2,426.8 245.4,428.8 245.7,423.9 245.9,427.4 246.2,423.1 246.4,426.8 246.7,421.6 246.9,421.2 247.2,421.3 247.4,422.3 247.7,425.9 247.9,425.9 248.2,427.0 248.4,424.3 248.7,420.9 248.9,427.8 249.2,419.0 249.4,426.5 249.7,428.0 249.9,424.2 250.2,422.4 250.4,425.9 250.7,427.6 250.9,420.6 251.2,427.8 251.4,422.5 251.7,424.6 251.9,425.9 252.2,424.8 252.4,427.7 252.7,427.7 252.9,424.2 253.2,427.5 253.4,426.8 253.7,421.3 253.9,420.4 254.2,422.1 254.4,422.6 254.7,425.5 254.9,424.6 255.2,426.6 255.4,431.8 255.7,424.3 255.9,424.2 256.2,422.3 256.4,427.7 256.7,421.8 256.9,426.1 257.2,427.8 257.4,425.3 257.7,422.3 257.9,424.7 258.2,423.5 258.4,426.8 258.7,423.4 258.9,422.1 259.2,426.8 259.4,423.5 259.7,427.9 259.9,423.9 260.2,428.2 260.4,423.5 260.7,424.5 260.9,427.2 261.2,423.5 261.4,426.8 261.7,424.1 261.9,426.6 262.2,423.0 262.4,425.7 262.7,420.7 262.9,423.1 263.2,422.9 263.4,427.5 263.7,429.4 263.9,426.1 264.2,419.6 264.4,426.4 264.7,421.0 264.9,420.9 265.2,425.4 265.4,424.5 265.7,420.6 265.9,424.5 266.2,424.9 266.4,425.2 266.7,423.6 266.9,424.0 267.2,420.6 267.4,423.1 267.7,420.7 267.9,423.8 268.2,417.3 268.4,423.7 268.7,423.8 268.9,425.3 269.2,427.5 269.4,425.4 269.7,422.6 269.9,425.6 270.2,421.0 270.4,427.0 270.7,427.1 270.9,422.1 271.2,421.8 271.4,425.5 271.7,419.9 271.9,419.0 272.2,421.5 272.4,425.5 272.7,419.0 272.9,422.7 273.2,422.3 273.4,420.5 273.7,423.2 273.9,417.5 274.2,422.6 274.4,418.2 274.7,418.6 274.9,415.9 275.2,418.7 275.4,417.5 275.7,420.3 275.9,419.5 276.2,420.0 276.4,416.2 276.7,419.2 276.9,413.3 277.2,416.8 277.4,418.9 277.7,417.0 277.9,411.7 278.2,415.1 278.4,411.7 278.7,416.3 278.9,410.4 279.2,408.7 279.4,408.4 279.7,406.7 279.9,410.0 280.2,410.6 280.4,408.6 280.7,402.0 280.9,401.8 281.2,399.5 281.4,401.4 281.7,396.6 281.9,400.9 282.2,394.4 282.4,396.4 282.7,393.2 282.9,388.7 283.2,386.3 283.4,387.0 283.7,385.5 283.9,379.2 284.2,377.9 284.4,380.0 284.7,375.3 284.9,374.2 285.2,368.9 285.4,367.8 285.7,365.3 285.9,363.5 286.2,362.4 286.4,355.6 286.7,354.4 286.9,358.2 287.2,350.4 287.4,345.6 287.7,344.8 287.9,341.9 288.2,337.8 288.4,331.8 288.7,331.4 288.9,324.4 289.2,318.3 289.4,315.6 289.7,312.0 289.9,311.6 290.2,305.0 290.4,305.2 290.7,300.9 290.9,304.3 291.2,297.4 291.4,301.8 291.7,300.8 291.9,299.5 292.2,304.0 292.4,307.6 292.7,309.7 292.9,309.9 293.2,313.3 293.4,318.1 293.7,325.0 293.9,328.2 294.2,329.2 294.4,332.7 294.7,339.8 294.9,343.3 295.2,343.2 295.4,345.4 295.7,351.1 295.9,357.3 296.2,353.3 296.4,360.0 296.7,361.8 296.9,370.9 297.2,370.0 297.4,371.2 297.7,372.4 297.9,377.8 298.2,381.7 298.4,384.3 298.7,383.3 298.9,383.8 299.2,385.9 299.4,392.8 299.7,392.2 299.9,392.5 300.2,391.6 300.4,394.4 300.7,396.8 300.9,403.2 301.2,397.9 301.4,402.3 301.7,402.9 301.9,406.5 302.2,406.6 302.4,408.2 302.7,409.5 302.9,411.8 303.2,409.0 303.4,409.5 303.7,414.0 303.9,415.6 304.2,416.4 304.4,416.0 304.7,412.5 304.9,417.0 305.2,412.8 305.4,421.1 305.7,421.3 305.9,421.1 306.2,421.8 306.4,419.3 306.7,416.3 306.9,422.8 307.2,420.6 307.4,418.5 307.7,416.2 307.9,421.9 308.2,420.3 308.4,419.7 308.7,423.0 308.9,422.1 309.2,424.6 309.4,426.1 309.7,425.5 309.9,421.4 310.2,421.1 310.4,424.0 310.7,427.7 310.9,421.8 311.2,425.0 311.4,421.4 311.7,424.9 311.9,428.1 312.2,426.0 312.4,427.1 312.7,421.6 312.9,431.2 313.2,427.1 313.4,426.5 313.7,430.8 313.9,424.8 314.2,424.4 314.4,423.9 314.7,423.9 314.9,426.3 315.2,423.8 315.4,427.2 315.7,426.1 315.9,425.7 316.2,426.1 316.4,425.0 316.7,428.0 316.9,426.7 317.2,427.9 317.4,426.3 317.7,425.7 317.9,428.3 318.2,423.0 318.4,421.8 318.7,425.2 318.9,426.4 319.2,428.2 319.4,427.1 319.7,427.2 319.9,425.0 320.2,426.7 320.4,425.0 320.7,425.3 320.9,427.9 321.2,430.0 321.4,429.7 321.7,429.4 321.9,426.9 322.2,423.9 322.4,429.1 322.7,425.3 322.9,427.3 323.2,423.8 323.4,421.4 323.7,424.3 323.9,426.1 324.2,425.7 324.4,423.7 324.7,427.7 324.9,428.9 325.2,426.5 325.4,423.0 325.7,428.7 325.9,424.2 326.2,424.8 326.4,427.5 326.7,428.9 326.9,431.0 327.2,429.8 327.4,426.6 327.7,425.1 327.9,428.5 328.2,428.4 328.4,428.9 328.7,420.9 328.9,430.3 329.2,430.6 329.4,424.3 329.7,429.6 329.9,424.4 330.2,428.9 330.4,424.3 330.7,423.3 330.9,427.9 331.2,426.7 331.4,429.1 331.7,424.4 331.9,427.3 332.2,428.8 332.4,425.3 332.7,425.4 332.9,426.3 333.2,427.2 333.4,423.6 333.7,427.6 333.9,428.0 334.2,426.3 334.4,424.3 334.7,426.5 334.9,427.0 335.2,427.8 335.4,427.2 335.7,426.7 335.9,420.0 336.2,429.2 336.4,425.8 336.7,424.4 336.9,426.6 337.2,427.2 337.4,422.7 337.7,420.5 337.9,421.1 338.2,423.6 338.4,424.6 338.7,421.7 338.9,427.3 339.2,425.1 339.4,419.3 339.7,421.7 339.9,422.2 340.2,423.0 340.4,423.4 340.7,424.4 340.9,420.7 341.2,420.8 341.4,420.7 341.7,428.0 341.9,418.7 342.2,419.7 342.4,417.9 342.7,423.2 342.9,427.2 343.2,425.0 343.4,424.0 343.7,416.8 343.9,423.8 344.2,423.1 344.4,419.5 344.7,419.9 344.9,419.8 345.2,423.5 345.4,417.7 345.7,421.5 345.9,424.8 346.2,421.8 346.4,426.5 346.7,426.2 346.9,424.9 347.2,426.4 347.4,424.8 347.7,425.3 347.9,425.0 348.2,426.2 348.4,421.4 348.7,426.8 348.9,425.8 349.2,426.9 349.4,426.3 349.7,428.2 349.9,419.8 350.2,425.9 350.4,423.3 350.7,426.4 350.9,428.9 351.2,427.0 351.4,427.6 351.7,429.0 351.9,425.8 352.2,422.2 352.4,425.8 352.7,423.8 352.9,423.2 353.2,431.4 353.4,421.9 353.7,430.0 353.9,422.2 354.2,426.4 354.4,425.5 354.7,421.5 354.9,424.5 355.2,431.2 355.4,431.7 355.7,430.3 355.9,424.8 356.2,426.6 356.4,425.2 356.7,426.4 356.9,424.5 357.2,430.2 357.4,432.2 357.7,429.3 357.9,425.7 358.2,430.3 358.4,433.6 358.7,429.2 358.9,426.1 359.2,426.8 359.4,428.7 359.7,429.2 359.9,433.2 360.2,428.0 360.4,423.3 360.7,429.3 360.9,424.0 361.2,431.2 361.4,429.2 361.7,429.4 361.9,428.3 362.2,432.7 362.4,425.3 362.7,429.1 362.9,433.8 363.2,426.8 363.4,428.1 363.7,431.6 363.9,428.7 364.2,426.4 364.4,426.7 364.7,427.6 364.9,430.1 365.2,427.7 365.4,425.2 365.7,422.9 365.9,426.7 366.2,426.3 366.4,425.9 366.7,428.9 366.9,432.6 367.2,429.7 367.4,428.8 367.7,427.8 367.9,428.5 368.2,430.4 368.4,430.1 368.7,429.4 368.9,431.1 369.2,431.1 369.4,433.4 369.7,430.1 369.9,429.0 370.2,430.9 370.4,430.0 370.7,429.2 370.9,432.2 371.2,431.1 371.4,431.8 371.7,428.4 371.9,432.3 372.2,429.4 372.4,434.6 372.7,425.1 372.9,428.1 373.2,431.4 373.4,429.5 373.7,424.6 373.9,429.0 374.2,432.9 374.4,429.3 374.7,430.4 374.9,427.8 375.2,428.6 375.4,433.0 375.7,428.3 375.9,426.5 376.2,425.3 376.4,427.9 376.7,424.1 376.9,425.1 377.2,426.8 377.4,424.8 377.7,434.9 377.9,425.5 378.2,425.0 378.4,428.9 378.7,426.6 378.9,430.2 379.2,429.0 379.4,429.1 379.7,431.2 379.9,429.2 380.2,433.1 380.4,429.0 380.7,424.4 380.9,423.9 381.2,428.7 381.4,424.3 381.7,427.6 381.9,431.8 382.2,430.2 382.4,428.8 382.7,428.7 382.9,427.0 383.2,430.4 383.4,429.6 383.7,426.0 383.9,428.3 384.2,427.6 384.4,428.7 384.7,426.8 384.9,426.7 385.2,430.5 385.4,425.7 385.7,430.1 385.9,427.7 386.2,429.3 386.4,426.9 386.7,427.8 386.9,427.1 387.2,428.2 387.4,428.8 387.7,428.0 387.9,428.5 388.2,430.6 388.4,432.4 388.7,427.2 388.9,425.3 389.2,430.9 389.4,427.3 389.7,430.0 389.9,428.1 390.2,426.3 390.4,427.6 390.7,429.1 390.9,433.4 391.2,429.1 391.4,428.6 391.7,425.5 391.9,430.3 392.2,428.8 392.4,428.1 392.7,425.4 392.9,431.5 393.2,426.5 393.4,428.8 393.7,430.2 393.9,432.0 394.2,431.0 394.4,426.5 394.7,429.9 394.9,430.9 395.2,429.6 395.4,425.3 395.7,426.1 395.9,426.5 396.2,426.1 396.4,426.6 396.7,429.6 396.9,431.3 397.2,425.5 397.4,428.9 397.7,428.2 397.9,429.7 398.2,427.3 398.4,425.2 398.7,429.5 398.9,428.1 399.2,428.4 399.4,426.9 399.7,428.5 399.9,428.4 400.2,430.0 400.4,428.4 400.7,430.3 400.9,426.6 401.2,428.8 401.4,424.4 401.7,430.1 401.9,431.0 402.2,426.2 402.4,426.9 402.7,431.8 402.9,422.0 403.2,428.8 403.4,425.6 403.7,429.4 403.9,426.7 404.2,425.6 404.4,429.5 404.7,427.5 404.9,426.2 405.2,423.2 405.4,425.8 405.7,424.8 405.9,426.8 406.2,426.4 406.4,426.7 406.7,428.6 406.9,432.6 407.2,432.2 407.4,427.2 407.7,426.8 407.9,427.8 408.2,429.4 408.4,429.1 408.7,431.0 408.9,424.9 409.2,431.9 409.4,423.6 409.7,428.7 409.9,421.2 410.2,426.2 410.4,428.0 410.7,426.8 410.9,428.2 411.2,423.1 411.4,426.7 411.7,425.9 411.9,428.5 412.2,424.6 412.4,429.6 412.7,427.3 412.9,422.3 413.2,430.3 413.4,424.1 413.7,421.7 413.9,424.0 414.2,420.4 414.4,420.6 414.7,422.2 414.9,427.1 415.2,424.1 415.4,423.5 415.7,420.0 415.9,422.5 416.2,422.9 416.4,425.3 416.7,422.5 416.9,421.4 417.2,428.1 417.4,422.3 417.7,421.3 417.9,423.0 418.2,422.9 418.4,424.2 418.7,420.8 418.9,424.7 419.2,420.6 419.4,423.0 419.7,428.9 419.9,425.2 420.2,424.0 420.4,422.9 420.7,425.0 420.9,425.9 421.2,423.8 421.4,422.1 421.7,430.8 421.9,428.1 422.2,422.6 422.4,426.2 422.7,429.5 422.9,423.0 423.2,422.5 423.4,428.1 423.7,425.8 423.9,427.7 424.2,427.0 424.4,425.6 424.7,428.7 424.9,428.3 425.2,429.0 425.4,432.5 425.7,427.2 425.9,426.3 426.2,428.1 426.4,428.4 426.7,426.5 426.9,430.3 427.2,431.2 427.4,427.5 427.7,428.3 427.9,424.4 428.2,432.2 428.4,428.8 428.7,431.8 428.9,423.5 429.2,429.8 429.4,426.9 429.7,434.3 429.9,431.2 430.2,426.9 430.4,429.8 430.7,430.4 430.9,427.2 431.2,428.6 431.4,428.5 431.7,428.2 431.9,430.1 432.2,425.1 432.4,426.4 432.7,429.2 432.9,429.8 433.2,433.5 433.4,431.7 433.7,425.6 433.9,431.8 434.2,429.9 434.4,424.8 434.7,426.3 434.9,428.1 435.2,427.9 435.4,429.7 435.7,428.5 435.9,428.8 436.2,425.6 436.4,427.0 436.7,430.7 436.9,425.4 437.2,426.8 437.4,426.1 437.7,425.8 437.9,426.9 438.2,428.3 438.4,425.6 438.7,425.9 438.9,429.4 439.2,429.2 439.4,428.1 439.7,427.5 439.9,428.9 440.2,432.2 440.4,425.9 440.7,430.4 440.9,431.6 441.2,430.9 441.4,428.7 441.7,429.4 441.9,434.5 442.2,432.7 442.4,432.8 442.7,430.8 442.9,428.6 443.2,430.6 443.4,424.2 443.7,426.8 443.9,425.4 444.2,427.2 444.4,432.0 444.7,427.7 444.9,432.5 445.2,431.4 445.4,428.3 445.7,428.8 445.9,427.3 446.2,429.5 446.4,426.2 446.7,426.8 446.9,427.9 447.2,430.6 447.4,430.2 447.7,426.2 447.9,421.7 448.2,429.9 448.4,428.3 448.7,430.9 448.9,434.8 449.2,427.2 449.4,428.3 449.7,427.1 449.9,430.3 450.2,430.8 450.4,425.1 450.7,431.0 450.9,427.1 451.2,426.4 451.4,428.8 451.7,430.2 451.9,428.2 452.2,433.2 452.4,429.5 452.7,429.8" stroke="#00f500" stroke-width="2.5"/><polyline points="49.1,567.7 49.5,568.6 49.8,568.9 50.2,569.6 50.5,568.2 50.9,567.3 51.2,568.0 51.6,567.7 51.9,567.4 52.3,568.4 52.6,566.5 53.0,568.4 53.3,567.7 53.7,566.4 54.0,567.9 54.4,567.8 54.7,568.1 55.1,567.7 55.4,569.0 55.8,568.2 56.1,566.9 56.5,567.7 56.8,567.9 57.2,567.5 57.5,567.5 57.9,567.6 58.2,567.4 58.6,568.6 58.9,567.3 59.3,568.0 59.6,567.2 60.0,567.6 60.3,568.1 60.7,567.6 61.0,568.1 61.4,567.0 61.7,567.5 62.1,567.0 62.4,568.1 62.8,566.5 63.1,567.6 63.5,566.6 63.8,566.9 64.2,567.9 64.5,567.1 64.9,567.6 65.2,567.0 65.6,566.4 65.9,566.8 66.3,566.6 66.6,567.8 67.0,567.0 67.3,566.8 67.7,566.4 68.0,567.3 68.4,566.6 68.7,566.6 69.1,567.7 69.4,567.3 69.8,566.5 70.1,567.3 70.5,567.3 70.8,566.0 71.2,566.3 71.5,566.5 71.9,566.3 72.2,566.5 72.6,566.5 72.9,566.4 73.3,565.8 73.6,565.2 74.0,566.1 74.3,565.8 74.7,565.8 75.0,566.2 75.4,565.3 75.7,564.8 76.1,565.6 76.4,564.6 76.8,565.2 77.1,564.1 77.5,563.9 77.8,564.6 78.2,565.3 78.5,564.2 78.9,564.5 79.2,564.2 79.6,563.4 79.9,562.2 80.3,562.7 80.6,562.4 81.0,563.0 81.3,561.9 81.7,561.9 82.0,560.4 82.4,560.5 82.7,559.7 83.1,559.0 83.4,558.5 83.8,557.1 84.1,556.5 84.5,556.1 84.8,554.8 85.2,553.5 85.5,551.9 85.9,551.2 86.2,549.1 86.6,548.7 86.9,547.0 87.3,546.2 87.6,543.5 88.0,543.2 88.3,542.3 88.7,540.7 89.0,541.3 89.4,541.8 89.7,541.6 90.1,543.4 90.4,544.1 90.8,546.3 91.1,547.2 91.5,548.5 91.8,550.5 92.2,550.9 92.5,553.3 92.9,554.3 93.2,555.2 93.6,555.6 93.9,557.1 94.3,558.0 94.6,558.3 95.0,558.3 95.3,559.8 95.7,560.8 96.0,560.6 96.4,560.6 96.7,561.6 97.1,561.6 97.4,563.0 97.8,562.3 98.1,562.5 98.5,562.5 98.8,562.9 99.2,562.8 99.5,564.0 99.9,563.2 100.2,564.7 100.6,564.2 100.9,563.4 101.3,563.7 101.6,565.3 102.0,564.1 102.3,564.7 102.7,565.0 103.0,564.6 103.4,564.7 103.7,564.1 104.1,565.7 104.4,565.2 104.8,565.1 105.1,566.1 105.5,564.5 105.8,564.2 106.2,565.5 106.5,565.0 106.9,565.4 107.2,565.1 107.6,565.6 107.9,564.8 108.3,565.9 108.6,564.6 109.0,565.1 109.3,564.0 109.7,566.2 110.0,565.4 110.4,566.0 110.7,565.4 111.1,565.1 111.4,565.8 111.8,566.1 112.1,566.2 112.5,565.1 112.8,564.5 113.2,564.5 113.5,565.1 113.9,565.7 114.2,565.3 114.6,565.9 114.9,565.9 115.3,564.4 115.6,565.1 116.0,564.7 116.3,565.0 116.7,564.0 117.0,563.9 117.4,565.0 117.7,564.7 118.1,564.8 118.4,563.7 118.8,563.6 119.1,564.4 119.5,562.8 119.8,564.0 120.2,564.6 120.5,564.9 120.9,563.7 121.2,563.4 121.6,563.7 121.9,563.1 122.3,562.4 122.6,563.0 123.0,562.3 123.3,561.7 123.7,562.1 124.0,562.5 124.4,561.7 124.7,561.4 125.1,560.3 125.4,561.5 125.8,561.8 126.1,560.5 126.5,560.1 126.8,560.2 127.2,559.3 127.5,559.1 127.9,558.1 128.2,558.8 128.6,558.3 128.9,557.4 129.3,557.1 129.6,555.5 130.0,555.2 130.3,554.8 130.7,553.2 131.0,552.9 131.4,551.7 131.7,550.8 132.1,550.2 132.4,549.0 132.8,547.5 133.1,546.7 133.5,544.6 133.8,542.2 134.2,540.5 134.5,538.9 134.9,534.7 135.2,533.8 135.6,529.8 135.9,526.3 136.3,522.2 136.6,519.1 137.0,513.8 137.3,508.6 137.7,502.0 138.0,496.0 138.4,489.1 138.7,481.8 139.1,473.7 139.4,467.3 139.8,460.8 140.1,456.7 140.5,452.5 140.8,452.4 141.2,452.3 141.5,456.1 141.9,461.7 142.2,468.2 142.6,474.6 142.9,481.8 143.3,489.3 143.6,495.9 144.0,502.2 144.3,508.0 144.7,513.0 145.0,517.3 145.4,520.8 145.7,524.8 146.1,528.6 146.4,530.2 146.8,533.0 147.1,536.0 147.5,537.4 147.8,540.1 148.2,542.0 148.5,543.5 148.9,543.8 149.2,546.0 149.6,547.3 149.9,548.7 150.3,550.2 150.6,550.8 151.0,551.8 151.3,552.2 151.7,554.7 152.0,554.3 152.4,555.6 152.7,557.7 153.1,556.9 153.4,557.2 153.8,558.0 154.1,559.0 154.5,559.5 154.8,561.1 155.2,560.2 155.5,560.7 155.9,561.6 156.2,561.3 156.6,562.1 156.9,560.7 157.3,562.9 157.6,562.9 158.0,563.9 158.3,563.1 158.7,563.0 159.0,563.3 159.4,563.8 159.7,563.1 160.1,563.6 160.4,563.3 160.8,564.1 161.1,565.2 161.5,564.4 161.8,565.0 162.2,564.1 162.5,565.0 162.9,564.9 163.2,564.9 163.6,565.8 163.9,565.3 164.3,564.7 164.6,565.6 165.0,565.4 165.3,565.3 165.7,565.9 166.0,565.7 166.4,565.4 166.7,565.9 167.1,565.8 167.4,565.9 167.8,566.5 168.1,566.7 168.5,564.9 168.8,565.3 169.2,566.2 169.5,565.7 169.9,565.6 170.2,565.7 170.6,566.5 170.9,567.1 171.3,567.1 171.6,566.6 172.0,565.7 172.3,565.7 172.7,566.7 173.0,566.8 173.4,566.0 173.7,565.5 174.1,567.2 174.4,566.5 174.8,566.7 175.1,567.0 175.5,567.0 175.8,567.0 176.2,566.9 176.5,567.7 176.9,566.9 177.2,566.5 177.6,566.6 177.9,566.6 178.3,566.8 178.6,566.9 179.0,566.0 179.3,567.2 179.7,567.0 180.0,566.4 180.4,567.1 180.7,567.9 181.1,567.5 181.4,567.4 181.8,567.3 182.1,567.5 182.5,566.7 182.8,566.9 183.2,567.0 183.5,567.5 183.9,566.7 184.2,566.8 184.6,566.1 184.9,567.7 185.3,567.4 185.6,566.6 186.0,568.0 186.3,567.3 186.7,567.3 187.0,567.4 187.4,568.0 187.7,567.4 188.1,568.3 188.4,566.8 188.8,567.7 189.1,567.4 189.5,567.5 189.8,567.4 190.2,567.5 190.5,567.3" stroke="#000" stroke-width="2.9"/><polyline points="198.2,567.9 198.5,568.5 198.9,566.4 199.2,567.5 199.6,567.4 199.9,567.9 200.3,567.7 200.6,567.6 201.0,567.6 201.3,568.1 201.7,567.4 202.0,567.4 202.4,567.8 202.7,568.1 203.1,568.2 203.4,568.2 203.8,567.5 204.1,567.8 204.5,567.1 204.8,568.1 205.2,567.2 205.5,567.6 205.9,567.9 206.2,567.0 206.6,567.4 206.9,567.1 207.3,566.9 207.6,567.2 208.0,567.7 208.3,567.3 208.7,566.9 209.0,567.7 209.4,567.1 209.7,567.5 210.1,567.6 210.4,567.6 210.8,567.9 211.1,567.4 211.5,567.0 211.8,568.3 212.2,567.4 212.5,567.0 212.9,567.3 213.2,566.6 213.6,567.4 213.9,566.5 214.3,566.4 214.6,566.6 215.0,567.2 215.3,565.8 215.7,566.8 216.0,566.3 216.4,567.1 216.7,566.8 217.1,566.2 217.4,567.0 217.8,566.0 218.1,565.2 218.5,566.8 218.8,566.1 219.2,565.3 219.5,565.9 219.9,565.1 220.2,565.4 220.6,566.3 220.9,566.6 221.3,565.2 221.6,564.5 222.0,565.3 222.3,564.0 222.7,565.4 223.0,564.1 223.4,564.4 223.7,564.2 224.1,564.2 224.4,564.2 224.8,563.8 225.1,564.2 225.5,563.0 225.8,564.0 226.2,562.9 226.5,563.7 226.9,563.8 227.2,562.6 227.6,562.7 227.9,562.8 228.3,561.8 228.6,563.2 229.0,562.2 229.3,562.5 229.7,561.8 230.0,563.3 230.4,563.0 230.7,563.1 231.1,563.4 231.4,563.8 231.8,563.2 232.1,563.3 232.5,563.8 232.8,563.5 233.2,564.4 233.5,562.8 233.9,563.4 234.2,563.7 234.6,563.5 234.9,564.2 235.3,564.5 235.6,564.6 236.0,564.8 236.3,564.8 236.7,564.0 237.0,565.0 237.4,564.1 237.7,564.7 238.1,564.0 238.4,565.4 238.8,565.6 239.1,565.6 239.5,566.6 239.8,565.0 240.2,565.3 240.5,565.5 240.9,565.6 241.2,565.2 241.6,566.2 241.9,565.6 242.3,565.6 242.6,565.5 243.0,565.1 243.3,565.7 243.7,566.4 244.0,565.7 244.4,566.2 244.7,566.0 245.1,566.6 245.4,566.2 245.8,566.1 246.1,566.3 246.5,565.9 246.8,565.1 247.2,566.2 247.5,566.6 247.9,566.3 248.2,565.5 248.6,566.1 248.9,565.6 249.3,566.0 249.6,565.6 250.0,566.4 250.3,565.4 250.7,566.0 251.0,565.8 251.4,565.3 251.7,567.3 252.1,565.3 252.4,564.7 252.8,566.2 253.1,566.3 253.5,566.1 253.8,565.6 254.2,566.0 254.5,566.6 254.9,566.5 255.2,566.9 255.6,566.3 255.9,566.4 256.3,566.8 256.6,565.7 257.0,565.9 257.3,565.6 257.7,567.0 258.0,565.3 258.4,565.0 258.7,566.0 259.1,566.5 259.4,566.8 259.8,565.2 260.1,565.7 260.5,565.4 260.8,565.7 261.2,566.5 261.5,565.9 261.9,565.6 262.2,566.0 262.6,565.4 262.9,565.9 263.3,564.9 263.6,566.5 264.0,565.1 264.3,565.3 264.7,564.8 265.0,564.5 265.4,564.9 265.7,565.0 266.1,565.4 266.4,564.5 266.8,564.9 267.1,564.7 267.5,564.9 267.8,564.7 268.2,565.1 268.5,563.3 268.9,564.5 269.2,564.8 269.6,564.7 269.9,564.2 270.3,564.6 270.6,563.9 271.0,564.2 271.3,564.0 271.7,563.5 272.0,563.8 272.4,563.7 272.7,563.5 273.1,562.9 273.4,563.7 273.8,562.8 274.1,563.0 274.5,563.0 274.8,563.8 275.2,563.0 275.5,563.7 275.9,563.1 276.2,562.8 276.6,562.8 276.9,563.1 277.3,561.7 277.6,562.2 278.0,561.1 278.3,561.7 278.7,562.5 279.0,560.5 279.4,560.5 279.7,559.9 280.1,560.8 280.4,561.5 280.8,560.0 281.1,560.4 281.5,560.0 281.8,559.8 282.2,559.5 282.5,557.9 282.9,558.6 283.2,558.8 283.6,556.2 283.9,557.1 284.3,556.7 284.6,555.0 285.0,554.7 285.3,555.1 285.7,552.9 286.0,552.2 286.4,551.6 286.7,551.9 287.1,549.9 287.4,549.9 287.8,547.5 288.1,546.1 288.5,544.6 288.8,544.0 289.2,541.2 289.5,540.4 289.9,538.7 290.2,537.0 290.6,534.3 290.9,532.0 291.3,530.0 291.6,528.0 292.0,524.3 292.3,522.2 292.7,519.1 293.0,516.4 293.4,513.7 293.7,511.3 294.1,508.3 294.4,505.4 294.8,503.9 295.1,500.4 295.5,497.3 295.8,495.8 296.2,495.2 296.5,493.1 296.9,493.0 297.2,492.2 297.6,493.4 297.9,494.7 298.3,495.6 298.6,497.7 299.0,499.3 299.3,502.5 299.7,504.1 300.0,507.7 300.4,511.2 300.7,513.7 301.1,516.5 301.4,518.7 301.8,521.7 302.1,524.6 302.5,526.7 302.8,529.4 303.2,531.5 303.5,534.4 303.9,535.5 304.2,539.3 304.6,540.8 304.9,541.7 305.3,542.9 305.6,544.0 306.0,546.0 306.3,547.4 306.7,548.4 307.0,549.6 307.4,550.8 307.7,552.4 308.1,553.0 308.4,553.4 308.8,554.9 309.1,554.8 309.5,554.9 309.8,556.2 310.2,557.1 310.5,557.9 310.9,558.0 311.2,557.9 311.6,557.9 311.9,558.8 312.3,558.9 312.6,559.2 313.0,559.9 313.3,560.5 313.7,559.6 314.0,560.3 314.4,560.1 314.7,561.4 315.1,561.5 315.4,561.4 315.8,562.0 316.1,562.6 316.5,562.5 316.8,563.0 317.2,562.6 317.5,563.7 317.9,562.5 318.2,562.5 318.6,564.1 318.9,563.4 319.3,563.3 319.6,564.1 320.0,563.5 320.3,563.4 320.7,564.0 321.0,563.4 321.4,563.8 321.7,564.7 322.1,564.6 322.4,563.5 322.8,563.5 323.1,564.2 323.5,563.6 323.8,565.2 324.2,563.6 324.5,563.6 324.9,564.8 325.2,564.8 325.6,565.3 325.9,563.2 326.3,564.9 326.6,565.1 327.0,565.4 327.3,565.3 327.7,565.4 328.0,564.5 328.4,564.8 328.7,565.6 329.1,565.1 329.4,565.7 329.8,565.2 330.1,566.8 330.5,564.4 330.8,565.2 331.2,565.9 331.5,564.9 331.9,565.4 332.2,565.6 332.6,564.5 332.9,565.3 333.3,565.1 333.6,564.8 334.0,565.3 334.3,565.6 334.7,565.6 335.0,566.1 335.4,565.1 335.7,566.6 336.1,565.2 336.4,565.0 336.8,565.2 337.1,565.5 337.5,566.0 337.8,565.3 338.2,564.8 338.5,565.1 338.9,564.9 339.2,565.8 339.6,565.7 339.9,565.0 340.3,566.4 340.6,565.6 341.0,566.0 341.3,566.0 341.7,564.7 342.0,564.4 342.4,564.8 342.7,565.0 343.1,565.3 343.4,564.7 343.8,564.9 344.1,564.0 344.5,565.2 344.8,564.6 345.2,563.4 345.5,564.7 345.9,563.7 346.2,564.1 346.6,565.5 346.9,563.6 347.3,563.6 347.6,564.2 348.0,563.2 348.3,562.7 348.7,563.3 349.0,562.9 349.4,563.6 349.7,562.2 350.1,563.0 350.4,562.9 350.8,563.6 351.1,563.2 351.5,562.3 351.8,562.7 352.2,563.4 352.5,563.9 352.9,564.1 353.2,562.7 353.6,563.7 353.9,563.3 354.3,562.4 354.6,564.1 355.0,563.9 355.3,563.0 355.7,563.6 356.0,563.2 356.4,563.4 356.7,564.4 357.1,564.4 357.4,563.9 357.8,564.4 358.1,564.7 358.5,564.2 358.8,564.6 359.2,566.0 359.5,563.9 359.9,564.4 360.2,565.7 360.6,564.8 360.9,565.8 361.3,566.9 361.6,565.6 362.0,565.3 362.3,565.1 362.7,566.5 363.0,565.6 363.4,566.2 363.7,566.0 364.1,566.3 364.4,566.2 364.8,567.2 365.1,566.0 365.5,566.7 365.8,566.3 366.2,566.9 366.5,566.2 366.9,566.2 367.2,566.7 367.6,567.2 367.9,567.1 368.3,566.7 368.6,566.2 369.0,566.7 369.3,566.8 369.7,566.5 370.0,568.0 370.4,567.2 370.7,566.6 371.1,566.8 371.4,566.9 371.8,566.6 372.1,567.9 372.5,566.8 372.8,567.0 373.2,568.6 373.5,566.7 373.9,567.8 374.2,567.2 374.6,566.9 374.9,567.4 375.3,567.3 375.6,567.3 376.0,567.7 376.3,567.4 376.7,568.2 377.0,566.8 377.4,567.8 377.7,567.8 378.1,567.1 378.4,567.4 378.8,567.9 379.1,567.8 379.5,566.6 379.8,567.4 380.2,567.9 380.5,567.5 380.9,567.2 381.2,567.5 381.6,567.1 381.9,567.5 382.3,566.4 382.6,566.2 383.0,567.5 383.3,568.4 383.7,568.4 384.0,567.9 384.4,566.5 384.7,567.3 385.1,566.9 385.4,566.8 385.8,567.2 386.1,567.1 386.5,566.3 386.8,567.9 387.2,567.1 387.5,566.8 387.9,566.7 388.2,567.1 388.6,567.6 388.9,566.7 389.3,566.8 389.6,568.6 390.0,568.7 390.3,567.5 390.7,566.6 391.0,568.1 391.4,567.2 391.7,567.3 392.1,567.0 392.4,568.0 392.8,568.2 393.1,568.6 393.5,567.7 393.8,567.6 394.2,567.9 394.5,567.3 394.9,567.5 395.2,567.2 395.6,568.0 395.9,567.7 396.3,567.5 396.6,568.1 397.0,568.7 397.3,567.3 397.7,567.7 398.0,566.6 398.4,567.5 398.7,568.2 399.1,566.9 399.4,567.1 399.8,567.7 400.1,566.8 400.5,567.3 400.8,567.4 401.2,567.8 401.5,568.5 401.9,567.2 402.2,567.5 402.6,567.1 402.9,567.5 403.3,566.9 403.6,567.2 404.0,567.3 404.3,567.4 404.7,567.4 405.0,568.1 405.4,568.8 405.7,567.8 406.1,567.9 406.4,567.3 406.8,567.8 407.1,566.6 407.5,567.2 407.8,567.9 408.2,567.7 408.5,567.8 408.9,567.2 409.2,567.0 409.6,566.4 409.9,568.5 410.3,567.4 410.6,567.4 411.0,567.9 411.3,567.3 411.7,567.0 412.0,566.5 412.4,567.2 412.7,566.7 413.1,565.6 413.4,566.6 413.8,566.0 414.1,565.9 414.5,565.0 414.8,566.9 415.2,566.1 415.5,566.1 415.9,565.0 416.2,564.6 416.6,563.9 416.9,563.9 417.3,564.7 417.6,563.7 418.0,563.3 418.3,563.8 418.7,562.9 419.0,563.2 419.4,562.5 419.7,564.0 420.1,563.1 420.4,563.7 420.8,563.5 421.1,564.0 421.5,564.6 421.8,565.1 422.2,564.5 422.5,565.7 422.9,564.9 423.2,565.9 423.6,566.7 423.9,565.7 424.3,566.4 424.6,566.7 425.0,566.4 425.3,567.6 425.7,567.1 426.0,566.6 426.4,567.3 426.7,566.8 427.1,568.0 427.4,567.8 427.8,567.0 428.1,568.9 428.5,567.1 428.8,566.5 429.2,568.0 429.5,566.6 429.9,567.8 430.2,566.7 430.6,567.6 430.9,567.6 431.3,568.9 431.6,567.5 432.0,568.7 432.3,567.5 432.7,568.4 433.0,568.0 433.4,567.3 433.7,568.3 434.1,568.1 434.4,567.5 434.8,567.2 435.1,567.3 435.5,568.0 435.8,567.9 436.2,568.1 436.5,567.5 436.9,567.9 437.2,568.1 437.6,568.2 437.9,567.8 438.3,568.2 438.6,568.3 439.0,567.7 439.3,567.7 439.7,568.6 440.0,567.5 440.4,568.4 440.7,568.2 441.1,567.7 441.4,568.1 441.8,568.6 442.1,567.5 442.5,568.1 442.8,568.0 443.2,567.7 443.5,567.5 443.9,567.4 444.2,567.7 444.6,568.4 444.9,568.1 445.3,568.2 445.6,568.0 446.0,568.8 446.3,568.1 446.7,567.9 447.0,567.5 447.4,568.9 447.7,567.7 448.1,567.8 448.4,568.4 448.8,568.4 449.1,568.4 449.5,568.3 449.8,567.3 450.2,568.4 450.5,568.1 450.9,568.0 451.2,567.6 451.6,568.0 451.9,566.9 452.3,568.4 452.6,568.0" stroke="#000" stroke-width="2.9"/><polyline points="49.1,591.9 49.5,591.7 49.8,590.9 50.2,591.4 50.5,590.8 50.9,590.7 51.2,591.9 51.6,590.5 51.9,591.4 52.3,589.9 52.6,590.7 53.0,591.4 53.3,590.9 53.7,590.9 54.0,590.9 54.4,590.3 54.7,590.7 55.1,590.1 55.4,590.6 55.8,591.1 56.1,591.8 56.5,591.8 56.8,590.8 57.2,590.6 57.5,590.1 57.9,591.3 58.2,590.9 58.6,591.3 58.9,591.1 59.3,592.1 59.6,590.4 60.0,591.2 60.3,590.9 60.7,590.6 61.0,590.6 61.4,591.5 61.7,589.9 62.1,590.3 62.4,590.4 62.8,591.1 63.1,591.6 63.5,591.6 63.8,590.8 64.2,590.5 64.5,591.0 64.9,589.6 65.2,590.4 65.6,590.0 65.9,590.0 66.3,591.1 66.6,589.9 67.0,590.2 67.3,591.1 67.7,590.0 68.0,589.7 68.4,589.8 68.7,589.7 69.1,591.0 69.4,590.3 69.8,590.4 70.1,590.1 70.5,590.0 70.8,589.4 71.2,589.5 71.5,590.4 71.9,589.4 72.2,588.9 72.6,589.6 72.9,590.5 73.3,590.0 73.6,589.6 74.0,590.4 74.3,589.5 74.7,590.0 75.0,588.8 75.4,588.7 75.7,589.1 76.1,589.6 76.4,588.6 76.8,589.0 77.1,588.9 77.5,587.8 77.8,588.7 78.2,588.9 78.5,587.5 78.9,586.8 79.2,586.7 79.6,587.0 79.9,586.0 80.3,587.1 80.6,585.5 81.0,585.2 81.3,586.3 81.7,585.5 82.0,586.1 82.4,585.5 82.7,584.2 83.1,584.7 83.4,583.4 83.8,582.7 84.1,582.2 84.5,581.1 84.8,579.8 85.2,579.9 85.5,578.5 85.9,577.3 86.2,577.3 86.6,576.4 86.9,576.2 87.3,573.6 87.6,572.2 88.0,571.7 88.3,570.1 88.7,570.0 89.0,570.3 89.4,571.1 89.7,572.1 90.1,572.3 90.4,573.0 90.8,574.4 91.1,575.6 91.5,576.7 91.8,577.2 92.2,579.5 92.5,579.6 92.9,580.3 93.2,580.7 93.6,581.4 93.9,582.6 94.3,583.4 94.6,584.2 95.0,583.4 95.3,584.2 95.7,584.8 96.0,585.6 96.4,586.2 96.7,585.2 97.1,586.2 97.4,586.2 97.8,585.7 98.1,587.7 98.5,587.5 98.8,587.0 99.2,587.1 99.5,588.1 99.9,587.7 100.2,588.2 100.6,588.3 100.9,587.8 101.3,588.0 101.6,587.6 102.0,588.0 102.3,587.6 102.7,588.9 103.0,588.3 103.4,589.4 103.7,589.6 104.1,589.5 104.4,588.4 104.8,588.7 105.1,589.8 105.5,588.2 105.8,588.4 106.2,589.1 106.5,589.1 106.9,589.0 107.2,589.7 107.6,587.8 107.9,589.3 108.3,589.2 108.6,589.3 109.0,589.5 109.3,589.6 109.7,588.9 110.0,589.8 110.4,589.7 110.7,589.5 111.1,588.6 111.4,589.6 111.8,589.6 112.1,588.9 112.5,589.7 112.8,589.2 113.2,588.5 113.5,588.7 113.9,588.9 114.2,588.1 114.6,589.1 114.9,589.2 115.3,589.8 115.6,588.8 116.0,588.4 116.3,589.1 116.7,587.6 117.0,588.0 117.4,588.0 117.7,589.1 118.1,588.3 118.4,588.1 118.8,589.4 119.1,588.2 119.5,588.3 119.8,589.0 120.2,587.7 120.5,586.7 120.9,587.3 121.2,588.1 121.6,587.7 121.9,586.8 122.3,587.8 122.6,587.0 123.0,587.0 123.3,586.8 123.7,585.8 124.0,587.4 124.4,585.7 124.7,586.0 125.1,586.0 125.4,586.6 125.8,585.3 126.1,585.5 126.5,586.6 126.8,585.4 127.2,585.0 127.5,584.6 127.9,584.0 128.2,583.8 128.6,582.0 128.9,581.8 129.3,582.0 129.6,580.7 130.0,579.7 130.3,580.0 130.7,580.3 131.0,578.6 131.4,577.2 131.7,577.7 132.1,576.2 132.4,574.6 132.8,573.3 133.1,572.1 133.5,571.0 133.8,569.7 134.2,568.1 134.5,565.2 134.9,563.1 135.2,561.3 135.6,558.6 135.9,554.3 136.3,550.9 136.6,547.8 137.0,543.6 137.3,537.4 137.7,531.2 138.0,524.5 138.4,517.4 138.7,511.0 139.1,502.1 139.4,494.6 139.8,488.0 140.1,481.0 140.5,479.8 140.8,479.8 141.2,483.2 141.5,488.1 141.9,494.8 142.2,503.4 142.6,511.1 142.9,519.0 143.3,526.3 143.6,532.2 144.0,537.6 144.3,542.7 144.7,547.2 145.0,552.0 145.4,554.1 145.7,557.1 146.1,558.8 146.4,562.3 146.8,564.7 147.1,566.7 147.5,567.6 147.8,568.7 148.2,569.9 148.5,572.2 148.9,572.8 149.2,573.1 149.6,574.7 149.9,576.0 150.3,577.0 150.6,578.7 151.0,579.5 151.3,579.9 151.7,579.7 152.0,580.5 152.4,581.9 152.7,582.2 153.1,582.9 153.4,583.0 153.8,584.5 154.1,584.4 154.5,584.4 154.8,586.0 155.2,585.6 155.5,585.7 155.9,585.9 156.2,586.1 156.6,586.3 156.9,586.3 157.3,586.3 157.6,587.0 158.0,586.2 158.3,587.8 158.7,587.8 159.0,587.7 159.4,588.4 159.7,588.9 160.1,589.0 160.4,587.7 160.8,588.8 161.1,589.3 161.5,587.6 161.8,588.6 162.2,588.8 162.5,589.5 162.9,588.9 163.2,589.4 163.6,589.1 163.9,589.3 164.3,589.5 164.6,589.3 165.0,590.0 165.3,589.8 165.7,590.1 166.0,589.5 166.4,589.4 166.7,589.4 167.1,590.9 167.4,589.0 167.8,590.1 168.1,590.1 168.5,590.1 168.8,590.1 169.2,589.5 169.5,590.1 169.9,590.1 170.2,589.7 170.6,589.6 170.9,590.9 171.3,591.0 171.6,591.5 172.0,591.5 172.3,590.3 172.7,590.5 173.0,590.6 173.4,590.4 173.7,590.4 174.1,590.0 174.4,589.7 174.8,591.1 175.1,589.9 175.5,590.1 175.8,591.2 176.2,590.7 176.5,591.0 176.9,591.7 177.2,590.8 177.6,591.7 177.9,590.9 178.3,591.5 178.6,591.1 179.0,590.5 179.3,590.9 179.7,591.4 180.0,590.9 180.4,590.6 180.7,590.5 181.1,591.5 181.4,590.4 181.8,591.2 182.1,591.4 182.5,590.5 182.8,590.8 183.2,590.8 183.5,591.1 183.9,592.2 184.2,590.9 184.6,590.9 184.9,591.3 185.3,590.3 185.6,591.2 186.0,590.3 186.3,590.6 186.7,591.6 187.0,591.7 187.4,591.5 187.7,591.3 188.1,590.9 188.4,591.6 188.8,591.9 189.1,590.2 189.5,591.3 189.8,591.2 190.2,590.4 190.5,591.3" stroke="#0a0ae6" stroke-width="2.9"/><polyline points="198.2,591.5 198.5,590.4 198.9,590.2 199.2,590.4 199.6,590.0 199.9,590.8 200.3,591.6 200.6,590.8 201.0,590.5 201.3,590.6 201.7,591.1 202.0,591.9 202.4,589.6 202.7,590.8 203.1,590.5 203.4,591.1 203.8,591.2 204.1,590.4 204.5,590.2 204.8,591.2 205.2,591.0 205.5,591.1 205.9,591.3 206.2,591.1 206.6,590.7 206.9,591.6 207.3,589.5 207.6,591.4 208.0,590.8 208.3,589.6 208.7,590.8 209.0,590.6 209.4,590.2 209.7,589.6 210.1,591.1 210.4,589.7 210.8,591.1 211.1,589.5 211.5,589.9 211.8,590.2 212.2,590.7 212.5,589.6 212.9,589.9 213.2,589.7 213.6,591.1 213.9,590.4 214.3,590.2 214.6,590.0 215.0,591.2 215.3,591.2 215.7,590.0 216.0,590.5 216.4,590.1 216.7,590.8 217.1,590.1 217.4,590.6 217.8,590.8 218.1,590.7 218.5,589.8 218.8,590.9 219.2,590.9 219.5,590.4 219.9,589.7 220.2,589.4 220.6,589.3 220.9,589.1 221.3,589.9 221.6,589.7 222.0,588.5 222.3,589.4 222.7,589.0 223.0,589.6 223.4,588.7 223.7,589.6 224.1,589.0 224.4,588.8 224.8,588.7 225.1,588.1 225.5,587.9 225.8,587.7 226.2,588.0 226.5,588.2 226.9,587.8 227.2,587.9 227.6,587.9 227.9,586.4 228.3,587.9 228.6,586.7 229.0,587.2 229.3,587.8 229.7,585.6 230.0,586.9 230.4,587.2 230.7,585.2 231.1,586.6 231.4,586.3 231.8,585.5 232.1,586.9 232.5,586.9 232.8,586.0 233.2,586.2 233.5,586.9 233.9,587.3 234.2,587.4 234.6,586.4 234.9,586.0 235.3,586.2 235.6,586.7 236.0,586.9 236.3,588.4 236.7,587.3 237.0,587.7 237.4,586.8 237.7,587.8 238.1,587.7 238.4,587.8 238.8,587.8 239.1,587.8 239.5,587.0 239.8,587.5 240.2,588.2 240.5,588.9 240.9,587.6 241.2,588.2 241.6,588.7 241.9,589.1 242.3,589.4 242.6,588.4 243.0,588.4 243.3,589.0 243.7,589.1 244.0,588.1 244.4,588.9 244.7,589.3 245.1,589.6 245.4,588.7 245.8,588.8 246.1,589.9 246.5,590.6 246.8,589.0 247.2,589.0 247.5,588.8 247.9,589.0 248.2,590.4 248.6,588.8 248.9,589.6 249.3,588.5 249.6,589.2 250.0,589.6 250.3,590.0 250.7,589.7 251.0,589.2 251.4,589.4 251.7,588.7 252.1,589.4 252.4,589.1 252.8,589.7 253.1,589.7 253.5,589.6 253.8,589.8 254.2,588.7 254.5,588.4 254.9,589.6 255.2,589.4 255.6,588.5 255.9,588.8 256.3,588.7 256.6,589.7 257.0,588.0 257.3,588.9 257.7,588.9 258.0,589.2 258.4,589.1 258.7,589.0 259.1,589.1 259.4,588.8 259.8,588.4 260.1,589.2 260.5,588.9 260.8,588.4 261.2,588.5 261.5,587.0 261.9,589.2 262.2,588.3 262.6,588.8 262.9,588.7 263.3,588.6 263.6,588.6 264.0,588.1 264.3,588.3 264.7,587.9 265.0,586.7 265.4,587.8 265.7,588.3 266.1,587.5 266.4,589.7 266.8,587.3 267.1,587.0 267.5,587.9 267.8,587.7 268.2,588.0 268.5,588.3 268.9,587.4 269.2,587.4 269.6,587.8 269.9,586.8 270.3,588.0 270.6,586.8 271.0,586.8 271.3,586.9 271.7,586.8 272.0,586.8 272.4,587.6 272.7,588.0 273.1,586.7 273.4,585.7 273.8,586.4 274.1,586.1 274.5,586.0 274.8,585.9 275.2,585.8 275.5,585.5 275.9,586.8 276.2,585.4 276.6,586.2 276.9,584.6 277.3,585.9 277.6,585.2 278.0,584.2 278.3,584.6 278.7,583.9 279.0,584.5 279.4,582.3 279.7,583.5 280.1,583.8 280.4,582.3 280.8,582.9 281.1,582.1 281.5,581.8 281.8,581.2 282.2,581.0 282.5,579.6 282.9,579.4 283.2,580.0 283.6,578.5 283.9,578.5 284.3,577.8 284.6,577.2 285.0,576.9 285.3,575.1 285.7,575.0 286.0,573.5 286.4,571.9 286.7,572.1 287.1,570.5 287.4,569.1 287.8,568.0 288.1,566.5 288.5,565.3 288.8,564.2 289.2,561.4 289.5,558.5 289.9,558.2 290.2,555.4 290.6,553.4 290.9,551.5 291.3,549.0 291.6,545.9 292.0,543.8 292.3,541.3 292.7,538.1 293.0,536.1 293.4,533.8 293.7,530.6 294.1,528.2 294.4,525.4 294.8,521.7 295.1,521.4 295.5,519.4 295.8,516.9 296.2,515.5 296.5,515.6 296.9,515.0 297.2,515.3 297.6,514.7 297.9,516.1 298.3,517.0 298.6,519.3 299.0,520.5 299.3,522.8 299.7,524.9 300.0,527.4 300.4,531.2 300.7,533.5 301.1,534.4 301.4,538.2 301.8,540.4 302.1,543.4 302.5,546.1 302.8,548.1 303.2,551.0 303.5,553.1 303.9,555.0 304.2,557.9 304.6,558.8 304.9,561.7 305.3,564.1 305.6,565.3 306.0,566.3 306.3,566.6 306.7,569.2 307.0,570.3 307.4,571.8 307.7,572.2 308.1,573.2 308.4,574.1 308.8,575.2 309.1,577.0 309.5,577.0 309.8,578.2 310.2,578.4 310.5,579.3 310.9,580.0 311.2,580.0 311.6,580.8 311.9,580.8 312.3,581.2 312.6,582.5 313.0,581.9 313.3,581.2 313.7,582.4 314.0,583.6 314.4,582.9 314.7,583.1 315.1,584.0 315.4,584.7 315.8,585.1 316.1,584.8 316.5,585.2 316.8,585.4 317.2,585.2 317.5,585.0 317.9,585.7 318.2,586.3 318.6,586.0 318.9,586.9 319.3,587.2 319.6,586.5 320.0,586.6 320.3,586.6 320.7,587.5 321.0,586.8 321.4,587.9 321.7,587.2 322.1,588.2 322.4,587.3 322.8,587.4 323.1,587.9 323.5,587.3 323.8,587.2 324.2,587.2 324.5,587.6 324.9,587.4 325.2,588.7 325.6,587.2 325.9,587.9 326.3,588.7 326.6,588.2 327.0,588.7 327.3,588.1 327.7,588.2 328.0,588.3 328.4,589.2 328.7,588.7 329.1,587.8 329.4,588.1 329.8,589.0 330.1,589.4 330.5,588.9 330.8,588.4 331.2,588.7 331.5,588.2 331.9,588.5 332.2,589.5 332.6,588.8 332.9,589.8 333.3,589.0 333.6,588.7 334.0,588.6 334.3,588.7 334.7,588.7 335.0,588.8 335.4,588.7 335.7,589.7 336.1,588.8 336.4,589.0 336.8,589.0 337.1,588.2 337.5,588.6 337.8,589.2 338.2,588.5 338.5,589.7 338.9,588.7 339.2,589.7 339.6,588.3 339.9,587.8 340.3,588.7 340.6,589.1 341.0,589.6 341.3,588.2 341.7,588.7 342.0,588.5 342.4,588.1 342.7,588.8 343.1,587.9 343.4,587.1 343.8,588.4 344.1,588.0 344.5,587.5 344.8,587.5 345.2,588.1 345.5,587.8 345.9,588.1 346.2,587.1 346.6,588.5 346.9,587.3 347.3,587.8 347.6,587.5 348.0,587.9 348.3,586.8 348.7,586.1 349.0,586.0 349.4,587.3 349.7,586.0 350.1,586.1 350.4,586.2 350.8,585.9 351.1,586.0 351.5,587.9 351.8,585.7 352.2,586.1 352.5,586.8 352.9,587.2 353.2,586.8 353.6,586.3 353.9,586.2 354.3,587.0 354.6,586.7 355.0,587.0 355.3,586.6 355.7,587.8 356.0,586.7 356.4,586.6 356.7,586.5 357.1,586.9 357.4,587.1 357.8,587.9 358.1,588.2 358.5,588.0 358.8,588.2 359.2,588.4 359.5,588.5 359.9,588.9 360.2,588.3 360.6,589.0 360.9,588.3 361.3,589.1 361.6,589.7 362.0,589.0 362.3,589.0 362.7,590.3 363.0,589.8 363.4,590.2 363.7,589.5 364.1,589.4 364.4,590.4 364.8,590.6 365.1,590.5 365.5,590.1 365.8,590.0 366.2,590.1 366.5,590.5 366.9,590.3 367.2,589.9 367.6,591.1 367.9,590.4 368.3,591.5 368.6,590.9 369.0,590.3 369.3,590.9 369.7,590.8 370.0,590.3 370.4,590.5 370.7,590.5 371.1,590.5 371.4,590.3 371.8,589.7 372.1,591.0 372.5,589.8 372.8,591.4 373.2,590.9 373.5,590.6 373.9,590.8 374.2,590.5 374.6,591.6 374.9,590.6 375.3,591.3 375.6,590.1 376.0,591.2 376.3,590.7 376.7,591.0 377.0,590.2 377.4,591.4 377.7,591.2 378.1,590.3 378.4,590.6 378.8,590.6 379.1,591.6 379.5,590.8 379.8,591.4 380.2,591.6 380.5,591.5 380.9,590.8 381.2,590.4 381.6,591.2 381.9,590.0 382.3,590.3 382.6,591.0 383.0,591.1 383.3,590.9 383.7,591.5 384.0,591.9 384.4,591.7 384.7,591.0 385.1,591.2 385.4,592.2 385.8,592.1 386.1,590.8 386.5,590.9 386.8,591.2 387.2,591.0 387.5,591.5 387.9,591.3 388.2,591.2 388.6,590.5 388.9,591.3 389.3,590.8 389.6,591.1 390.0,591.7 390.3,590.4 390.7,591.3 391.0,591.6 391.4,591.4 391.7,591.1 392.1,591.6 392.4,590.4 392.8,592.0 393.1,590.6 393.5,592.6 393.8,591.5 394.2,590.9 394.5,591.3 394.9,591.9 395.2,590.8 395.6,591.2 395.9,590.9 396.3,592.1 396.6,591.0 397.0,591.0 397.3,590.4 397.7,590.6 398.0,590.4 398.4,591.5 398.7,590.7 399.1,590.4 399.4,591.7 399.8,591.0 400.1,591.8 400.5,591.5 400.8,590.6 401.2,591.2 401.5,590.9 401.9,590.7 402.2,591.9 402.6,592.1 402.9,591.8 403.3,591.7 403.6,590.3 404.0,590.6 404.3,591.0 404.7,590.7 405.0,591.2 405.4,592.2 405.7,592.1 406.1,590.6 406.4,591.6 406.8,591.7 407.1,590.7 407.5,591.2 407.8,591.0 408.2,591.1 408.5,592.2 408.9,590.6 409.2,591.1 409.6,590.7 409.9,591.5 410.3,591.2 410.6,591.5 411.0,591.3 411.3,591.0 411.7,591.1 412.0,590.6 412.4,590.3 412.7,590.4 413.1,589.4 413.4,590.7 413.8,589.2 414.1,589.5 414.5,589.9 414.8,588.5 415.2,588.2 415.5,588.3 415.9,588.2 416.2,587.0 416.6,587.4 416.9,587.2 417.3,587.2 417.6,587.5 418.0,587.7 418.3,585.9 418.7,587.0 419.0,586.3 419.4,586.7 419.7,586.0 420.1,586.6 420.4,587.4 420.8,586.8 421.1,587.3 421.5,587.5 421.8,587.9 422.2,588.8 422.5,589.5 422.9,589.3 423.2,589.1 423.6,589.7 423.9,590.0 424.3,590.1 424.6,589.3 425.0,589.5 425.3,591.1 425.7,590.4 426.0,590.9 426.4,591.3 426.7,590.9 427.1,591.4 427.4,591.4 427.8,590.7 428.1,590.9 428.5,591.0 428.8,591.4 429.2,591.7 429.5,591.4 429.9,592.3 430.2,591.4 430.6,591.9 430.9,590.9 431.3,592.1 431.6,591.7 432.0,591.3 432.3,591.9 432.7,591.5 433.0,592.7 433.4,592.0 433.7,591.0 434.1,591.9 434.4,592.4 434.8,591.1 435.1,591.5 435.5,591.9 435.8,591.7 436.2,590.9 436.5,590.6 436.9,591.2 437.2,591.8 437.6,591.2 437.9,591.5 438.3,592.4 438.6,591.7 439.0,591.9 439.3,591.2 439.7,591.2 440.0,591.8 440.4,591.4 440.7,591.9 441.1,592.3 441.4,592.1 441.8,591.1 442.1,592.1 442.5,592.7 442.8,591.9 443.2,591.4 443.5,592.6 443.9,592.3 444.2,591.3 444.6,592.1 444.9,592.5 445.3,591.9 445.6,592.2 446.0,591.2 446.3,591.7 446.7,591.9 447.0,591.3 447.4,591.7 447.7,591.3 448.1,591.2 448.4,591.5 448.8,591.2 449.1,592.2 449.5,591.3 449.8,590.9 450.2,592.0 450.5,591.9 450.9,591.2 451.2,591.3 451.6,591.8 451.9,591.3 452.3,591.5 452.6,591.2" stroke="#0a0ae6" stroke-width="2.9"/>
</g>
</svg>
</body></html>
